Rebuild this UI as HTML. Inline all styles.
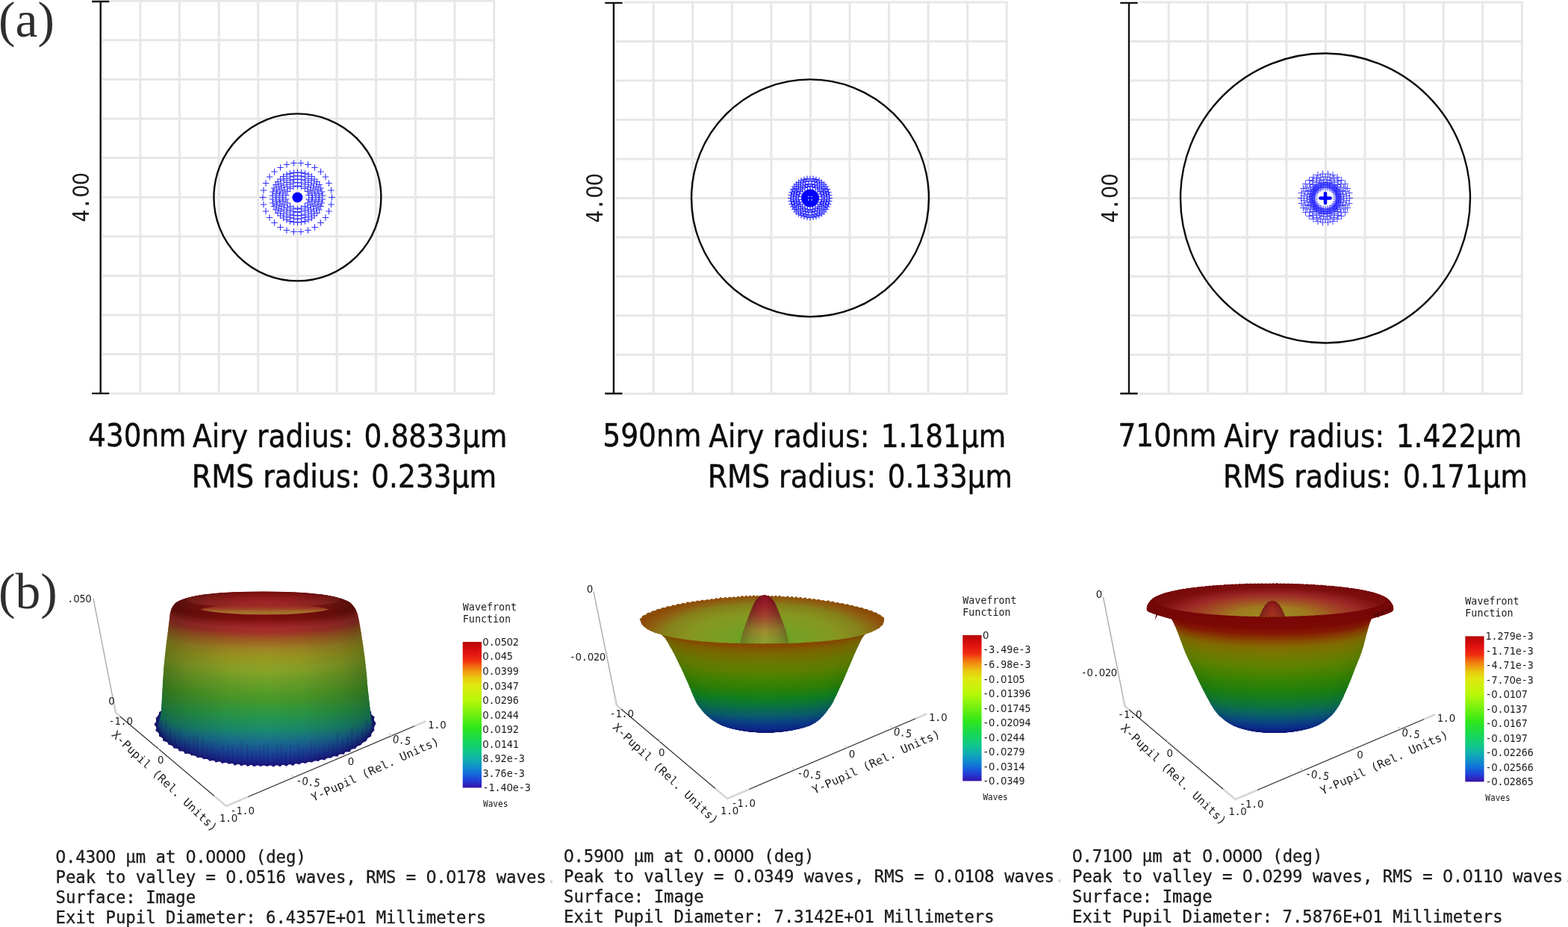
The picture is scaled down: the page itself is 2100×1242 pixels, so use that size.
<!DOCTYPE html>
<html lang="en"><head><meta charset="utf-8"><title>Spot diagrams and wavefront maps</title>
<style>
html,body{margin:0;padding:0;background:#fff;}
body{width:2100px;height:1242px;overflow:hidden;}
svg{display:block;filter:blur(0.45px);}
.serif{font-family:"Liberation Serif",serif;fill:#2e2e2e;}
.sans{font-family:"DejaVu Sans Condensed","DejaVu Sans","Liberation Sans",sans-serif;fill:#0c0c0c;stroke:#0c0c0c;stroke-width:0.45px;}
.mono{font-family:"DejaVu Sans Mono","Liberation Mono",monospace;fill:#1a1a1a;}
.z{font-family:"DejaVu Sans","Liberation Sans",sans-serif;}
</style></head><body>
<svg width="2100" height="1242" viewBox="0 0 2100 1242">
<rect width="2100" height="1242" fill="#fff"/>
<g>
<path d="M187.8 -0.3V528.7M240.4 -0.3V528.7M293.1 -0.3V528.7M345.7 -0.3V528.7M398.4 -0.3V528.7M451.1 -0.3V528.7M503.7 -0.3V528.7M556.4 -0.3V528.7M609 -0.3V528.7M661.7 -0.3V528.7M148.6 1.2H663.2M136.6 53.8H663.2M136.6 106.4H663.2M136.6 159H663.2M136.6 211.6H663.2M136.6 264.2H663.2M136.6 316.8H663.2M136.6 369.4H663.2M136.6 422H663.2M136.6 474.6H663.2M148.6 527.2H663.2" fill="none" stroke="#e7e7e7" stroke-width="3"/>
<path d="M134.7 2V527.1M123 2H146.4M123 527.1H146.4" fill="none" stroke="#111" stroke-width="2.4"/>
<circle cx="398.4" cy="264.4" r="112" fill="none" stroke="#0a0a0a" stroke-width="2.4"/>
<path d="M440.2 264.5h8.6M444.5 260.2v8.6M439.2 274h8.6M443.5 269.7v8.6M436.2 283h8.6M440.5 278.7v8.6M431.7 291.5h8.6M436 287.2v8.6M425.2 298.5h8.6M429.5 294.2v8.6M417.2 304.5h8.6M421.5 300.2v8.6M408.2 308.5h8.6M412.5 304.2v8.6M398.7 310.5h8.6M403 306.2v8.6M389.2 310.5h8.6M393.5 306.2v8.6M379.7 308.5h8.6M384 304.2v8.6M371.2 304.5h8.6M375.5 300.2v8.6M363.2 298.5h8.6M367.5 294.2v8.6M356.7 291.5h8.6M361 287.2v8.6M351.7 283h8.6M356 278.7v8.6M348.7 274h8.6M353 269.7v8.6M347.7 264.5h8.6M352 260.2v8.6M348.7 255h8.6M353 250.7v8.6M351.7 245.5h8.6M356 241.2v8.6M356.7 237h8.6M361 232.7v8.6M363.2 230h8.6M367.5 225.7v8.6M371.2 224.5h8.6M375.5 220.2v8.6M379.7 220.5h8.6M384 216.2v8.6M389.2 218.5h8.6M393.5 214.2v8.6M398.7 218.5h8.6M403 214.2v8.6M408.2 220.5h8.6M412.5 216.2v8.6M417.2 224.5h8.6M421.5 220.2v8.6M425.2 230h8.6M429.5 225.7v8.6M431.7 237h8.6M436 232.7v8.6M436.2 245.5h8.6M440.5 241.2v8.6M439.2 255h8.6M443.5 250.7v8.6M427.7 267h8.6M432 262.7v8.6M426.7 272h8.6M431 267.7v8.6M425.2 276.5h8.6M429.5 272.2v8.6M423.2 281h8.6M427.5 276.7v8.6M420.2 285.5h8.6M424.5 281.2v8.6M416.7 289h8.6M421 284.7v8.6M413.2 292h8.6M417.5 287.7v8.6M408.7 294.5h8.6M413 290.2v8.6M404.2 296.5h8.6M408.5 292.2v8.6M399.2 297.5h8.6M403.5 293.2v8.6M394.2 298h8.6M398.5 293.7v8.6M389.2 297.5h8.6M393.5 293.2v8.6M384.2 296.5h8.6M388.5 292.2v8.6M379.7 294.5h8.6M384 290.2v8.6M375.2 292h8.6M379.5 287.7v8.6M371.2 289h8.6M375.5 284.7v8.6M367.7 285.5h8.6M372 281.2v8.6M365.2 281h8.6M369.5 276.7v8.6M362.7 276.5h8.6M367 272.2v8.6M361.2 272h8.6M365.5 267.7v8.6M360.7 267h8.6M365 262.7v8.6M360.7 262h8.6M365 257.7v8.6M361.2 257h8.6M365.5 252.7v8.6M362.7 252h8.6M367 247.7v8.6M365.2 247.5h8.6M369.5 243.2v8.6M367.7 243.5h8.6M372 239.2v8.6M371.2 240h8.6M375.5 235.7v8.6M375.2 236.5h8.6M379.5 232.2v8.6M379.7 234h8.6M384 229.7v8.6M384.2 232.5h8.6M388.5 228.2v8.6M389.2 231.5h8.6M393.5 227.2v8.6M394.2 231h8.6M398.5 226.7v8.6M399.2 231.5h8.6M403.5 227.2v8.6M404.2 232.5h8.6M408.5 228.2v8.6M408.7 234h8.6M413 229.7v8.6M413.2 236.5h8.6M417.5 232.2v8.6M416.7 240h8.6M421 235.7v8.6M420.2 243.5h8.6M424.5 239.2v8.6M423.2 247.5h8.6M427.5 243.2v8.6M425.2 252h8.6M429.5 247.7v8.6M426.7 257h8.6M431 252.7v8.6M427.7 262h8.6M432 257.7v8.6M423.2 264.5h8.6M427.5 260.2v8.6M422.7 269.5h8.6M427 265.2v8.6M421.2 274.5h8.6M425.5 270.2v8.6M419.2 279h8.6M423.5 274.7v8.6M416.2 283h8.6M420.5 278.7v8.6M412.7 286.5h8.6M417 282.2v8.6M408.7 289.5h8.6M413 285.2v8.6M404.2 291.5h8.6M408.5 287.2v8.6M399.2 293h8.6M403.5 288.7v8.6M394.2 293.5h8.6M398.5 289.2v8.6M389.2 293h8.6M393.5 288.7v8.6M384.2 291.5h8.6M388.5 287.2v8.6M379.7 289.5h8.6M384 285.2v8.6M375.7 286.5h8.6M380 282.2v8.6M371.7 283h8.6M376 278.7v8.6M369.2 279h8.6M373.5 274.7v8.6M366.7 274.5h8.6M371 270.2v8.6M365.7 269.5h8.6M370 265.2v8.6M365.2 264.5h8.6M369.5 260.2v8.6M365.7 259.5h8.6M370 255.2v8.6M366.7 254.5h8.6M371 250.2v8.6M369.2 250h8.6M373.5 245.7v8.6M371.7 246h8.6M376 241.7v8.6M375.7 242h8.6M380 237.7v8.6M379.7 239.5h8.6M384 235.2v8.6M384.2 237h8.6M388.5 232.7v8.6M389.2 236h8.6M393.5 231.7v8.6M394.2 235.5h8.6M398.5 231.2v8.6M399.2 236h8.6M403.5 231.7v8.6M404.2 237h8.6M408.5 232.7v8.6M408.7 239.5h8.6M413 235.2v8.6M412.7 242h8.6M417 237.7v8.6M416.2 246h8.6M420.5 241.7v8.6M419.2 250h8.6M423.5 245.7v8.6M421.2 254.5h8.6M425.5 250.2v8.6M422.7 259.5h8.6M427 255.2v8.6M418.7 267h8.6M423 262.7v8.6M417.2 272h8.6M421.5 267.7v8.6M415.2 276.5h8.6M419.5 272.2v8.6M412.2 281h8.6M416.5 276.7v8.6M408.7 284h8.6M413 279.7v8.6M404.2 287h8.6M408.5 282.7v8.6M399.2 288.5h8.6M403.5 284.2v8.6M394.2 289h8.6M398.5 284.7v8.6M389.2 288.5h8.6M393.5 284.2v8.6M384.2 287h8.6M388.5 282.7v8.6M379.7 284h8.6M384 279.7v8.6M375.7 281h8.6M380 276.7v8.6M372.7 276.5h8.6M377 272.2v8.6M370.7 272h8.6M375 267.7v8.6M369.7 267h8.6M374 262.7v8.6M369.7 262h8.6M374 257.7v8.6M370.7 257h8.6M375 252.7v8.6M372.7 252h8.6M377 247.7v8.6M375.7 248h8.6M380 243.7v8.6M379.7 244.5h8.6M384 240.2v8.6M384.2 242h8.6M388.5 237.7v8.6M389.2 240.5h8.6M393.5 236.2v8.6M394.2 240h8.6M398.5 235.7v8.6M399.2 240.5h8.6M403.5 236.2v8.6M404.2 242h8.6M408.5 237.7v8.6M408.7 244.5h8.6M413 240.2v8.6M412.2 248h8.6M416.5 243.7v8.6M415.2 252h8.6M419.5 247.7v8.6M417.2 257h8.6M421.5 252.7v8.6M418.7 262h8.6M423 257.7v8.6M414.2 264.5h8.6M418.5 260.2v8.6M413.2 269.5h8.6M417.5 265.2v8.6M411.2 274.5h8.6M415.5 270.2v8.6M408.2 278.5h8.6M412.5 274.2v8.6M404.2 281.5h8.6M408.5 277.2v8.6M399.2 283.5h8.6M403.5 279.2v8.6M394.2 284.5h8.6M398.5 280.2v8.6M388.7 283.5h8.6M393 279.2v8.6M384.2 281.5h8.6M388.5 277.2v8.6M380.2 278.5h8.6M384.5 274.2v8.6M376.7 274.5h8.6M381 270.2v8.6M374.7 269.5h8.6M379 265.2v8.6M374.2 264.5h8.6M378.5 260.2v8.6M374.7 259h8.6M379 254.7v8.6M376.7 254.5h8.6M381 250.2v8.6M380.2 250.5h8.6M384.5 246.2v8.6M384.2 247h8.6M388.5 242.7v8.6M388.7 245h8.6M393 240.7v8.6M394.2 244.5h8.6M398.5 240.2v8.6M399.2 245h8.6M403.5 240.7v8.6M404.2 247h8.6M408.5 242.7v8.6M408.2 250.5h8.6M412.5 246.2v8.6M411.2 254.5h8.6M415.5 250.2v8.6M413.2 259h8.6M417.5 254.7v8.6M409.2 267h8.6M413.5 262.7v8.6M407.7 272h8.6M412 267.7v8.6M404.2 276.5h8.6M408.5 272.2v8.6M399.2 279h8.6M403.5 274.7v8.6M394.2 280h8.6M398.5 275.7v8.6M388.7 279h8.6M393 274.7v8.6M384.2 276.5h8.6M388.5 272.2v8.6M380.7 272h8.6M385 267.7v8.6M378.7 267h8.6M383 262.7v8.6M378.7 261.5h8.6M383 257.2v8.6M380.7 256.5h8.6M385 252.2v8.6M384.2 252.5h8.6M388.5 248.2v8.6M388.7 250h8.6M393 245.7v8.6M394.2 249h8.6M398.5 244.7v8.6M399.2 250h8.6M403.5 245.7v8.6M404.2 252.5h8.6M408.5 248.2v8.6M407.7 256.5h8.6M412 252.2v8.6M409.2 261.5h8.6M413.5 257.2v8.6" fill="none" stroke="#1010ff" stroke-width="1.1" stroke-opacity="0.85"/>
<circle cx="398.4" cy="264.4" r="7" fill="#0000ff"/>
<text class="mono" font-size="29.5" transform="translate(119.4 297.4) rotate(-90) scale(0.9290 1)"><tspan x="0">4.</tspan><tspan class="z" x="35.02">0</tspan><tspan class="z" x="52.78">0</tspan></text>
</g>
<g>
<path d="M875.2 1.6V529.1M927.7 1.6V529.1M980.3 1.6V529.1M1032.9 1.6V529.1M1085.5 1.6V529.1M1138 1.6V529.1M1190.6 1.6V529.1M1243.2 1.6V529.1M1295.7 1.6V529.1M1348.3 1.6V529.1M836.1 3.1H1349.8M824.1 55.6H1349.8M824.1 108.1H1349.8M824.1 160.5H1349.8M824.1 213H1349.8M824.1 265.4H1349.8M824.1 317.9H1349.8M824.1 370.3H1349.8M824.1 422.8H1349.8M824.1 475.2H1349.8M836.1 527.6H1349.8" fill="none" stroke="#e7e7e7" stroke-width="3"/>
<path d="M821.9 3.9V527.2M810.2 3.9H833.6M810.2 527.2H833.6" fill="none" stroke="#111" stroke-width="2.4"/>
<circle cx="1085" cy="265.4" r="159" fill="none" stroke="#0a0a0a" stroke-width="2.4"/>
<path d="M1107 265.5h8M1111 261.5v8M1106.5 269.5h8M1110.5 265.5v8M1105.5 273.5h8M1109.5 269.5v8M1104 277h8M1108 273v8M1102 280.5h8M1106 276.5v8M1099.5 284h8M1103.5 280v8M1096.5 286.5h8M1100.5 282.5v8M1093 288.5h8M1097 284.5v8M1089 290h8M1093 286v8M1085 291h8M1089 287v8M1081 291.5h8M1085 287.5v8M1077 291h8M1081 287v8M1073 290h8M1077 286v8M1069 288.5h8M1073 284.5v8M1065.5 286.5h8M1069.5 282.5v8M1062.5 284h8M1066.5 280v8M1060 280.5h8M1064 276.5v8M1058 277h8M1062 273v8M1056.5 273.5h8M1060.5 269.5v8M1055.5 269.5h8M1059.5 265.5v8M1055 265.5h8M1059 261.5v8M1055.5 261.5h8M1059.5 257.5v8M1056.5 257.5h8M1060.5 253.5v8M1058 253.5h8M1062 249.5v8M1060 250h8M1064 246v8M1062.5 247h8M1066.5 243v8M1065.5 244.5h8M1069.5 240.5v8M1069 242h8M1073 238v8M1073 240.5h8M1077 236.5v8M1077 239.5h8M1081 235.5v8M1081 239.5h8M1085 235.5v8M1085 239.5h8M1089 235.5v8M1089 240.5h8M1093 236.5v8M1093 242h8M1097 238v8M1096.5 244.5h8M1100.5 240.5v8M1099.5 247h8M1103.5 243v8M1102 250h8M1106 246v8M1104 253.5h8M1108 249.5v8M1105.5 257.5h8M1109.5 253.5v8M1106.5 261.5h8M1110.5 257.5v8M1103.5 267.5h8M1107.5 263.5v8M1102.5 271h8M1106.5 267v8M1101.5 275h8M1105.5 271v8M1099.5 278.5h8M1103.5 274.5v8M1097 281.5h8M1101 277.5v8M1094 284h8M1098 280v8M1090.5 286h8M1094.5 282v8M1087 287h8M1091 283v8M1083 288h8M1087 284v8M1079 288h8M1083 284v8M1075 287h8M1079 283v8M1071.5 286h8M1075.5 282v8M1068 284h8M1072 280v8M1065 281.5h8M1069 277.5v8M1062.5 278.5h8M1066.5 274.5v8M1060.5 275h8M1064.5 271v8M1059.5 271h8M1063.5 267v8M1058.5 267.5h8M1062.5 263.5v8M1058.5 263.5h8M1062.5 259.5v8M1059.5 259.5h8M1063.5 255.5v8M1060.5 256h8M1064.5 252v8M1062.5 252.5h8M1066.5 248.5v8M1065 249.5h8M1069 245.5v8M1068 247h8M1072 243v8M1071.5 245h8M1075.5 241v8M1075 243.5h8M1079 239.5v8M1079 243h8M1083 239v8M1083 243h8M1087 239v8M1087 243.5h8M1091 239.5v8M1090.5 245h8M1094.5 241v8M1094 247h8M1098 243v8M1097 249.5h8M1101 245.5v8M1099.5 252.5h8M1103.5 248.5v8M1101.5 256h8M1105.5 252v8M1102.5 259.5h8M1106.5 255.5v8M1103.5 263.5h8M1107.5 259.5v8M1100 265.5h8M1104 261.5v8M1099.5 269.5h8M1103.5 265.5v8M1098.5 273h8M1102.5 269v8M1096.5 276.5h8M1100.5 272.5v8M1093.5 279.5h8M1097.5 275.5v8M1090.5 282h8M1094.5 278v8M1087 283.5h8M1091 279.5v8M1083 284.5h8M1087 280.5v8M1079 284.5h8M1083 280.5v8M1075 283.5h8M1079 279.5v8M1071.5 282h8M1075.5 278v8M1068.5 279.5h8M1072.5 275.5v8M1065.5 276.5h8M1069.5 272.5v8M1063.5 273h8M1067.5 269v8M1062.5 269.5h8M1066.5 265.5v8M1062 265.5h8M1066 261.5v8M1062.5 261.5h8M1066.5 257.5v8M1063.5 257.5h8M1067.5 253.5v8M1065.5 254h8M1069.5 250v8M1068.5 251.5h8M1072.5 247.5v8M1071.5 249h8M1075.5 245v8M1075 247.5h8M1079 243.5v8M1079 246.5h8M1083 242.5v8M1083 246.5h8M1087 242.5v8M1087 247.5h8M1091 243.5v8M1090.5 249h8M1094.5 245v8M1093.5 251.5h8M1097.5 247.5v8M1096.5 254h8M1100.5 250v8M1098.5 257.5h8M1102.5 253.5v8M1099.5 261.5h8M1103.5 257.5v8M1096.5 267.5h8M1100.5 263.5v8M1095.5 271h8M1099.5 267v8M1094 274h8M1098 270v8M1091.5 277h8M1095.5 273v8M1088 279h8M1092 275v8M1084.5 280.5h8M1088.5 276.5v8M1081 281h8M1085 277v8M1077.5 280.5h8M1081.5 276.5v8M1074 279h8M1078 275v8M1070.5 277h8M1074.5 273v8M1068 274h8M1072 270v8M1066.5 271h8M1070.5 267v8M1065.5 267.5h8M1069.5 263.5v8M1065.5 263.5h8M1069.5 259.5v8M1066.5 260h8M1070.5 256v8M1068 256.5h8M1072 252.5v8M1070.5 254h8M1074.5 250v8M1074 251.5h8M1078 247.5v8M1077.5 250.5h8M1081.5 246.5v8M1081 250h8M1085 246v8M1084.5 250.5h8M1088.5 246.5v8M1088 251.5h8M1092 247.5v8M1091.5 254h8M1095.5 250v8M1094 256.5h8M1098 252.5v8M1095.5 260h8M1099.5 256v8M1096.5 263.5h8M1100.5 259.5v8" fill="none" stroke="#1010ff" stroke-width="1.15" stroke-opacity="0.9"/>
<circle cx="1085" cy="265.4" r="12" fill="#0000ff"/>
<path d="M1082.2 263.4h1.4M1086.4 263.4h1.4M1082.2 267.7h1.4M1086.4 267.7h1.4" stroke="#dfe0ff" stroke-width="1.4" fill="none"/>
<text class="mono" font-size="29.5" transform="translate(806.6 298.4) rotate(-90) scale(0.9290 1)"><tspan x="0">4.</tspan><tspan class="z" x="35.02">0</tspan><tspan class="z" x="52.78">0</tspan></text>
</g>
<g>
<path d="M1565.2 1.6V529.1M1617.7 1.6V529.1M1670.3 1.6V529.1M1722.9 1.6V529.1M1775.4 1.6V529.1M1828 1.6V529.1M1880.6 1.6V529.1M1933.2 1.6V529.1M1985.7 1.6V529.1M2038.3 1.6V529.1M1526.1 3.1H2039.8M1514.1 55.6H2039.8M1514.1 108.1H2039.8M1514.1 160.5H2039.8M1514.1 213H2039.8M1514.1 265.4H2039.8M1514.1 317.9H2039.8M1514.1 370.3H2039.8M1514.1 422.8H2039.8M1514.1 475.2H2039.8M1526.1 527.6H2039.8" fill="none" stroke="#e7e7e7" stroke-width="3"/>
<path d="M1512 3.9V527.2M1500.3 3.9H1523.7M1500.3 527.2H1523.7" fill="none" stroke="#111" stroke-width="2.4"/>
<circle cx="1775" cy="265.5" r="194" fill="none" stroke="#0a0a0a" stroke-width="2.4"/>
<path d="M1803 265.5h9M1807.5 261v9M1802.5 272.5h9M1807 268v9M1800 278.5h9M1804.5 274v9M1797 284.5h9M1801.5 280v9M1792 289.5h9M1796.5 285v9M1786.5 293.5h9M1791 289v9M1780.5 296.5h9M1785 292v9M1774 298h9M1778.5 293.5v9M1767 298h9M1771.5 293.5v9M1760.5 296.5h9M1765 292v9M1754.5 293.5h9M1759 289v9M1749 289.5h9M1753.5 285v9M1744 284.5h9M1748.5 280v9M1741 278.5h9M1745.5 274v9M1738.5 272.5h9M1743 268v9M1738 265.5h9M1742.5 261v9M1738.5 258.5h9M1743 254v9M1741 252.5h9M1745.5 248v9M1744 246.5h9M1748.5 242v9M1749 241.5h9M1753.5 237v9M1754.5 237.5h9M1759 233v9M1760.5 234.5h9M1765 230v9M1767 233h9M1771.5 228.5v9M1774 233h9M1778.5 228.5v9M1780.5 234.5h9M1785 230v9M1786.5 237.5h9M1791 233v9M1792 241.5h9M1796.5 237v9M1797 246.5h9M1801.5 242v9M1800 252.5h9M1804.5 248v9M1802.5 258.5h9M1807 254v9M1799 268.5h9M1803.5 264v9M1797.5 274.5h9M1802 270v9M1795 280h9M1799.5 275.5v9M1791.5 284.5h9M1796 280v9M1787.5 288.5h9M1792 284v9M1782 291.5h9M1786.5 287v9M1776.5 293.5h9M1781 289v9M1770.5 294h9M1775 289.5v9M1764.5 293.5h9M1769 289v9M1759 291.5h9M1763.5 287v9M1753.5 288.5h9M1758 284v9M1749.5 284.5h9M1754 280v9M1746 280h9M1750.5 275.5v9M1743.5 274.5h9M1748 270v9M1742 268.5h9M1746.5 264v9M1742 262.5h9M1746.5 258v9M1743.5 256.5h9M1748 252v9M1746 251h9M1750.5 246.5v9M1749.5 246.5h9M1754 242v9M1753.5 242.5h9M1758 238v9M1759 239.5h9M1763.5 235v9M1764.5 237.5h9M1769 233v9M1770.5 237h9M1775 232.5v9M1776.5 237.5h9M1781 233v9M1782 239.5h9M1786.5 235v9M1787.5 242.5h9M1792 238v9M1791.5 246.5h9M1796 242v9M1795 251h9M1799.5 246.5v9M1797.5 256.5h9M1802 252v9M1799 262.5h9M1803.5 258v9M1795 265.5h9M1799.5 261v9M1794.5 270.5h9M1799 266v9M1793 275.5h9M1797.5 271v9M1790.5 280h9M1795 275.5v9M1787 283.5h9M1791.5 279v9M1782.5 286.5h9M1787 282v9M1778 289h9M1782.5 284.5v9M1773 290h9M1777.5 285.5v9M1768 290h9M1772.5 285.5v9M1763 289h9M1767.5 284.5v9M1758.5 286.5h9M1763 282v9M1754 283.5h9M1758.5 279v9M1750.5 280h9M1755 275.5v9M1748 275.5h9M1752.5 271v9M1746.5 270.5h9M1751 266v9M1746 265.5h9M1750.5 261v9M1746.5 260.5h9M1751 256v9M1748 255.5h9M1752.5 251v9M1750.5 251h9M1755 246.5v9M1754 247.5h9M1758.5 243v9M1758.5 244.5h9M1763 240v9M1763 242h9M1767.5 237.5v9M1768 241h9M1772.5 236.5v9M1773 241h9M1777.5 236.5v9M1778 242h9M1782.5 237.5v9M1782.5 244.5h9M1787 240v9M1787 247.5h9M1791.5 243v9M1790.5 251h9M1795 246.5v9M1793 255.5h9M1797.5 251v9M1794.5 260.5h9M1799 256v9M1791.5 267.5h9M1796 263v9M1791 271h9M1795.5 266.5v9M1789.5 274.5h9M1794 270v9M1787.5 277.5h9M1792 273v9M1785.5 280.5h9M1790 276v9M1782.5 282.5h9M1787 278v9M1779.5 284.5h9M1784 280v9M1776 286h9M1780.5 281.5v9M1772.5 286.5h9M1777 282v9M1768.5 286.5h9M1773 282v9M1765 286h9M1769.5 281.5v9M1761.5 284.5h9M1766 280v9M1758.5 282.5h9M1763 278v9M1755.5 280.5h9M1760 276v9M1753.5 277.5h9M1758 273v9M1751.5 274.5h9M1756 270v9M1750 271h9M1754.5 266.5v9M1749.5 267.5h9M1754 263v9M1749.5 263.5h9M1754 259v9M1750 260h9M1754.5 255.5v9M1751.5 256.5h9M1756 252v9M1753.5 253.5h9M1758 249v9M1755.5 250.5h9M1760 246v9M1758.5 248.5h9M1763 244v9M1761.5 246.5h9M1766 242v9M1765 245h9M1769.5 240.5v9M1768.5 244.5h9M1773 240v9M1772.5 244.5h9M1777 240v9M1776 245h9M1780.5 240.5v9M1779.5 246.5h9M1784 242v9M1782.5 248.5h9M1787 244v9M1785.5 250.5h9M1790 246v9M1787.5 253.5h9M1792 249v9M1789.5 256.5h9M1794 252v9M1791 260h9M1795.5 255.5v9M1791.5 263.5h9M1796 259v9M1788.5 265.5h9M1793 261v9M1788 268.5h9M1792.5 264v9M1787.5 271.5h9M1792 267v9M1786 274.5h9M1790.5 270v9M1784.5 277h9M1789 272.5v9M1782 279.5h9M1786.5 275v9M1779.5 281h9M1784 276.5v9M1776.5 282.5h9M1781 278v9M1773.5 283h9M1778 278.5v9M1770.5 283.5h9M1775 279v9M1767.5 283h9M1772 278.5v9M1764.5 282.5h9M1769 278v9M1761.5 281h9M1766 276.5v9M1759 279.5h9M1763.5 275v9M1756.5 277h9M1761 272.5v9M1755 274.5h9M1759.5 270v9M1753.5 271.5h9M1758 267v9M1753 268.5h9M1757.5 264v9M1752.5 265.5h9M1757 261v9M1753 262.5h9M1757.5 258v9M1753.5 259.5h9M1758 255v9M1755 256.5h9M1759.5 252v9M1756.5 254h9M1761 249.5v9M1759 251.5h9M1763.5 247v9M1761.5 250h9M1766 245.5v9M1764.5 248.5h9M1769 244v9M1767.5 248h9M1772 243.5v9M1770.5 247.5h9M1775 243v9M1773.5 248h9M1778 243.5v9M1776.5 248.5h9M1781 244v9M1779.5 250h9M1784 245.5v9M1782 251.5h9M1786.5 247v9M1784.5 254h9M1789 249.5v9M1786 256.5h9M1790.5 252v9M1787.5 259.5h9M1792 255v9M1788 262.5h9M1792.5 258v9M1785.5 267h9M1790 262.5v9M1785 270h9M1789.5 265.5v9M1783.5 273h9M1788 268.5v9M1781.5 275.5h9M1786 271v9M1779.5 277.5h9M1784 273v9M1776.5 279h9M1781 274.5v9M1773.5 280h9M1778 275.5v9M1770.5 280.5h9M1775 276v9M1767.5 280h9M1772 275.5v9M1764.5 279h9M1769 274.5v9M1761.5 277.5h9M1766 273v9M1759.5 275.5h9M1764 271v9M1757.5 273h9M1762 268.5v9M1756 270h9M1760.5 265.5v9M1755.5 267h9M1760 262.5v9M1755.5 264h9M1760 259.5v9M1756 261h9M1760.5 256.5v9M1757.5 258h9M1762 253.5v9M1759.5 255.5h9M1764 251v9M1761.5 253.5h9M1766 249v9M1764.5 252h9M1769 247.5v9M1767.5 251h9M1772 246.5v9M1770.5 250.5h9M1775 246v9M1773.5 251h9M1778 246.5v9M1776.5 252h9M1781 247.5v9M1779.5 253.5h9M1784 249v9M1781.5 255.5h9M1786 251v9M1783.5 258h9M1788 253.5v9M1785 261h9M1789.5 256.5v9M1785.5 264h9M1790 259.5v9" fill="none" stroke="#1010ff" stroke-width="1.1" stroke-opacity="0.75"/>
<circle cx="1775" cy="265.5" r="18" fill="none" stroke="#0000ff" stroke-width="7" stroke-opacity="0.38"/>
<path d="M1768.5 265.5h13M1775 259v13" stroke="#0000ff" stroke-width="4.6" stroke-linecap="round" fill="none"/>
<text class="mono" font-size="29.5" transform="translate(1496.7 298.5) rotate(-90) scale(0.9290 1)"><tspan x="0">4.</tspan><tspan class="z" x="35.02">0</tspan><tspan class="z" x="52.78">0</tspan></text>
</g>
<text class="serif" x="-2" y="48.7" font-size="67.5">(a)</text>
<text class="serif" x="-2" y="814.6" font-size="67.5">(b)</text>
<text class="sans" font-size="42.5" x="118.35" y="597.5" textLength="131.01" lengthAdjust="spacingAndGlyphs">430nm</text>
<text class="sans" font-size="42.5" x="257.91" y="599.2" textLength="215.25" lengthAdjust="spacingAndGlyphs">Airy radius:</text>
<text class="sans" font-size="42.5" x="487.61" y="599.2" textLength="191.75" lengthAdjust="spacingAndGlyphs">0.8833µm</text>
<text class="sans" font-size="42.5" x="256.72" y="653.3" textLength="225.90" lengthAdjust="spacingAndGlyphs">RMS radius:</text>
<text class="sans" font-size="42.5" x="497.15" y="653.3" textLength="168.09" lengthAdjust="spacingAndGlyphs">0.233µm</text>
<text class="sans" font-size="42.5" x="807.28" y="597.5" textLength="132.07" lengthAdjust="spacingAndGlyphs">590nm</text>
<text class="sans" font-size="42.5" x="949.20" y="599.2" textLength="215.41" lengthAdjust="spacingAndGlyphs">Airy radius:</text>
<text class="sans" font-size="42.5" x="1179.67" y="599.2" textLength="167.67" lengthAdjust="spacingAndGlyphs">1.181µm</text>
<text class="sans" font-size="42.5" x="947.70" y="653.3" textLength="225.70" lengthAdjust="spacingAndGlyphs">RMS radius:</text>
<text class="sans" font-size="42.5" x="1188.81" y="653.3" textLength="166.99" lengthAdjust="spacingAndGlyphs">0.133µm</text>
<text class="sans" font-size="42.5" x="1497.40" y="597.5" textLength="132.01" lengthAdjust="spacingAndGlyphs">710nm</text>
<text class="sans" font-size="42.5" x="1639.20" y="599.2" textLength="215.13" lengthAdjust="spacingAndGlyphs">Airy radius:</text>
<text class="sans" font-size="42.5" x="1869.65" y="599.2" textLength="168.57" lengthAdjust="spacingAndGlyphs">1.422µm</text>
<text class="sans" font-size="42.5" x="1637.99" y="653.3" textLength="225.21" lengthAdjust="spacingAndGlyphs">RMS radius:</text>
<text class="sans" font-size="42.5" x="1878.81" y="653.3" textLength="166.99" lengthAdjust="spacingAndGlyphs">0.171µm</text>
<defs><linearGradient id="sh" x1="0" y1="0" x2="1" y2="0">
<stop offset="0" stop-color="#001000" stop-opacity="0.3"/>
<stop offset="0.12" stop-color="#001000" stop-opacity="0.17"/>
<stop offset="0.32" stop-color="#001000" stop-opacity="0.04"/>
<stop offset="0.5" stop-color="#000" stop-opacity="0"/>
<stop offset="0.68" stop-color="#001000" stop-opacity="0.04"/>
<stop offset="0.88" stop-color="#001000" stop-opacity="0.17"/>
<stop offset="1" stop-color="#001000" stop-opacity="0.3"/>
</linearGradient>
<linearGradient id="cap1" x1="0" y1="0" x2="0" y2="1">
<stop offset="0" stop-color="#720e0e"/>
<stop offset="0.35" stop-color="#901a1a"/>
<stop offset="0.7" stop-color="#a02626"/>
<stop offset="1" stop-color="#9a2222"/>
</linearGradient>
<linearGradient id="crat1" gradientUnits="userSpaceOnUse" x1="0" y1="808" x2="0" y2="824">
<stop offset="0" stop-color="#a02626" stop-opacity="0"/>
<stop offset="0.35" stop-color="#a23c28" stop-opacity="0.7"/>
<stop offset="0.7" stop-color="#a46a2a"/>
<stop offset="0.92" stop-color="#a4742c"/>
<stop offset="1" stop-color="#8a3a18"/>
</linearGradient><linearGradient id="sh2" x1="0" y1="0" x2="1" y2="0">
<stop offset="0" stop-color="#000" stop-opacity="0.06"/>
<stop offset="0.15" stop-color="#000" stop-opacity="0.02"/>
<stop offset="0.5" stop-color="#000" stop-opacity="0"/>
<stop offset="0.85" stop-color="#000" stop-opacity="0.02"/>
<stop offset="1" stop-color="#000" stop-opacity="0.06"/>
</linearGradient>
<linearGradient id="sh3" x1="0" y1="0" x2="1" y2="0">
<stop offset="0" stop-color="#000" stop-opacity="0.28"/>
<stop offset="0.2" stop-color="#000" stop-opacity="0.12"/>
<stop offset="0.5" stop-color="#000" stop-opacity="0"/>
<stop offset="0.8" stop-color="#000" stop-opacity="0.12"/>
<stop offset="1" stop-color="#000" stop-opacity="0.28"/>
</linearGradient>
<radialGradient id="int2" gradientUnits="userSpaceOnUse" cx="1023" cy="854" r="172" gradientTransform="translate(0 854) scale(1 0.33) translate(0 -854)">
<stop offset="0" stop-color="#5aa222"/>
<stop offset="0.3" stop-color="#78a024"/>
<stop offset="0.58" stop-color="#869620"/>
<stop offset="0.78" stop-color="#86801a"/>
<stop offset="0.92" stop-color="#8e5c10"/>
<stop offset="1" stop-color="#8c4c08"/>
</radialGradient>
<radialGradient id="int3" gradientUnits="userSpaceOnUse" cx="1703" cy="825" r="185" gradientTransform="translate(0 825) scale(1 0.24) translate(0 -825)">
<stop offset="0" stop-color="#9a9020"/>
<stop offset="0.28" stop-color="#a07a20"/>
<stop offset="0.48" stop-color="#a24a24"/>
<stop offset="0.66" stop-color="#9c2626"/>
<stop offset="0.85" stop-color="#7e0e0e"/>
<stop offset="1" stop-color="#760a0a"/>
</radialGradient>
<clipPath id="pk2"><rect x="858" y="750" width="326" height="80"/><ellipse cx="1021" cy="830" rx="163" ry="32"/></clipPath>
<clipPath id="pk3"><rect x="1546" y="750" width="310" height="54"/><ellipse cx="1701" cy="804" rx="155" ry="22"/></clipPath><linearGradient id="cb" x1="0" y1="0" x2="0" y2="1"><stop offset="0" stop-color="#b80808"/><stop offset="0.03" stop-color="#c80a0a"/><stop offset="0.07" stop-color="#e01010"/><stop offset="0.13" stop-color="#f03010"/><stop offset="0.17" stop-color="#f07010"/><stop offset="0.21" stop-color="#f0a010"/><stop offset="0.245" stop-color="#e8c810"/><stop offset="0.295" stop-color="#e0e810"/><stop offset="0.4" stop-color="#b8f808"/><stop offset="0.5" stop-color="#70f010"/><stop offset="0.585" stop-color="#30e818"/><stop offset="0.67" stop-color="#18d850"/><stop offset="0.75" stop-color="#10c888"/><stop offset="0.82" stop-color="#10a8b8"/><stop offset="0.89" stop-color="#1078d8"/><stop offset="0.95" stop-color="#2040d8"/><stop offset="1" stop-color="#3810a8"/></linearGradient></defs>
<path d="M125 802L155 955" stroke="#a8a8a8" stroke-width="1.3" fill="none"/>
<path d="M152.3 941.2L155 955" stroke="#cfcfcf" stroke-width="2.6" fill="none"/>
<path d="M155 955L303 1080L570 966.5" stroke="#262626" stroke-width="1.15" fill="none" stroke-linejoin="round"/>
<path d="M286.7 1066.2L303 1080L332.4 1067.5M555.3 972.7L570 966.5M155 955L160.9 960" stroke="#d6d6d6" stroke-width="2.5" fill="none" stroke-linejoin="round"/>
<path d="M212.7 1003.8l-2 -4.5M393.8 1041.4l-3.5 -3M463.2 1011.9l-3.5 -3M524.6 985.8l-3.5 -3" stroke="#c4c4c4" stroke-width="1.2" fill="none"/>
<text class="mono" font-size="14.4" transform="translate(145.5 970.6) scale(0.9285 1)"><tspan x="0">-1.</tspan><tspan class="z" x="25.76">0</tspan></text>
<text class="mono" font-size="14.4" transform="translate(211.3 1023) scale(0.9285 1)"><tspan class="z" x="-0.24">0</tspan></text>
<text class="mono" font-size="14.4" transform="translate(294 1101) scale(0.9285 1)"><tspan x="0">1.</tspan><tspan class="z" x="17.09">0</tspan></text>
<text class="mono" font-size="14.4" transform="translate(308.5 1091.3) scale(0.9285 1)"><tspan x="0">-1.</tspan><tspan class="z" x="25.76">0</tspan></text>
<text class="mono" font-size="14.4" transform="translate(396 1050) rotate(8) scale(0.9285 1)"><tspan x="0">-</tspan><tspan class="z" x="8.43">0</tspan><tspan x="17.34">.5</tspan></text>
<text class="mono" font-size="14.4" transform="translate(466 1025) scale(0.9285 1)"><tspan class="z" x="-0.24">0</tspan></text>
<text class="mono" font-size="14.4" transform="translate(525.5 995) rotate(8) scale(0.9285 1)"><tspan class="z" x="-0.24">0</tspan><tspan x="8.67">.5</tspan></text>
<text class="mono" font-size="14.4" transform="translate(573.3 975.5) scale(0.9285 1)"><tspan x="0">1.</tspan><tspan class="z" x="17.09">0</tspan></text>
<text class="mono" font-size="15.2" transform="translate(148.8 985.6) rotate(43.5)" textLength="187.6" lengthAdjust="spacing">X-Pupil (Rel. Units)</text>
<text class="mono" font-size="15.2" transform="translate(419.8 1074.1) rotate(-24.5)" textLength="186" lengthAdjust="spacing">Y-Pupil (Rel. Units)</text>
<text class="mono" font-size="14.4" transform="translate(122.5 806.8) scale(0.9285 1)"><tspan x="-34.68">.</tspan><tspan class="z" x="-26.25">0</tspan><tspan x="-17.34">5</tspan><tspan class="z" x="-8.91">0</tspan></text>
<text class="mono" font-size="14.4" transform="translate(153.4 943.7) scale(0.9285 1)"><tspan class="z" x="-8.91">0</tspan></text>
<path d="M795 792.5L826 945" stroke="#a8a8a8" stroke-width="1.3" fill="none"/>
<path d="M823.2 931.3L826 945" stroke="#cfcfcf" stroke-width="2.6" fill="none"/>
<path d="M826 945L974 1070L1241 956.5" stroke="#262626" stroke-width="1.15" fill="none" stroke-linejoin="round"/>
<path d="M957.7 1056.2L974 1070L1003.4 1057.5M1226.3 962.7L1241 956.5M826 945L831.9 950" stroke="#d6d6d6" stroke-width="2.5" fill="none" stroke-linejoin="round"/>
<path d="M883.7 993.8l-2 -4.5M1064.8 1031.4l-3.5 -3M1134.2 1001.9l-3.5 -3M1195.6 975.8l-3.5 -3" stroke="#c4c4c4" stroke-width="1.2" fill="none"/>
<text class="mono" font-size="14.4" transform="translate(816.5 960.6) scale(0.9285 1)"><tspan x="0">-1.</tspan><tspan class="z" x="25.76">0</tspan></text>
<text class="mono" font-size="14.4" transform="translate(882.3 1013) scale(0.9285 1)"><tspan class="z" x="-0.24">0</tspan></text>
<text class="mono" font-size="14.4" transform="translate(965 1091) scale(0.9285 1)"><tspan x="0">1.</tspan><tspan class="z" x="17.09">0</tspan></text>
<text class="mono" font-size="14.4" transform="translate(979.5 1081.3) scale(0.9285 1)"><tspan x="0">-1.</tspan><tspan class="z" x="25.76">0</tspan></text>
<text class="mono" font-size="14.4" transform="translate(1067 1040) rotate(8) scale(0.9285 1)"><tspan x="0">-</tspan><tspan class="z" x="8.43">0</tspan><tspan x="17.34">.5</tspan></text>
<text class="mono" font-size="14.4" transform="translate(1137 1015) scale(0.9285 1)"><tspan class="z" x="-0.24">0</tspan></text>
<text class="mono" font-size="14.4" transform="translate(1196.5 985) rotate(8) scale(0.9285 1)"><tspan class="z" x="-0.24">0</tspan><tspan x="8.67">.5</tspan></text>
<text class="mono" font-size="14.4" transform="translate(1244.3 965.5) scale(0.9285 1)"><tspan x="0">1.</tspan><tspan class="z" x="17.09">0</tspan></text>
<text class="mono" font-size="15.2" transform="translate(819.8 975.6) rotate(43.5)" textLength="187.6" lengthAdjust="spacing">X-Pupil (Rel. Units)</text>
<text class="mono" font-size="15.2" transform="translate(1090.8 1064.1) rotate(-24.5)" textLength="186" lengthAdjust="spacing">Y-Pupil (Rel. Units)</text>
<text class="mono" font-size="14.4" transform="translate(794 794) scale(0.9285 1)"><tspan class="z" x="-8.91">0</tspan></text>
<text class="mono" font-size="14.4" transform="translate(811 884.8) scale(0.9285 1)"><tspan x="-52.02">-</tspan><tspan class="z" x="-43.59">0</tspan><tspan x="-34.68">.</tspan><tspan class="z" x="-26.25">0</tspan><tspan x="-17.34">2</tspan><tspan class="z" x="-8.91">0</tspan></text>
<path d="M1477.5 800L1506.5 946" stroke="#a8a8a8" stroke-width="1.3" fill="none"/>
<path d="M1503.9 932.9L1506.5 946" stroke="#cfcfcf" stroke-width="2.6" fill="none"/>
<path d="M1506.5 946L1654.5 1071L1921.5 957.5" stroke="#262626" stroke-width="1.15" fill="none" stroke-linejoin="round"/>
<path d="M1638.2 1057.2L1654.5 1071L1683.9 1058.5M1906.8 963.7L1921.5 957.5M1506.5 946L1512.4 951" stroke="#d6d6d6" stroke-width="2.5" fill="none" stroke-linejoin="round"/>
<path d="M1564.2 994.8l-2 -4.5M1745.3 1032.4l-3.5 -3M1814.7 1002.9l-3.5 -3M1876.1 976.8l-3.5 -3" stroke="#c4c4c4" stroke-width="1.2" fill="none"/>
<text class="mono" font-size="14.4" transform="translate(1497 961.6) scale(0.9285 1)"><tspan x="0">-1.</tspan><tspan class="z" x="25.76">0</tspan></text>
<text class="mono" font-size="14.4" transform="translate(1562.8 1014) scale(0.9285 1)"><tspan class="z" x="-0.24">0</tspan></text>
<text class="mono" font-size="14.4" transform="translate(1645.5 1092) scale(0.9285 1)"><tspan x="0">1.</tspan><tspan class="z" x="17.09">0</tspan></text>
<text class="mono" font-size="14.4" transform="translate(1660 1082.3) scale(0.9285 1)"><tspan x="0">-1.</tspan><tspan class="z" x="25.76">0</tspan></text>
<text class="mono" font-size="14.4" transform="translate(1747.5 1041) rotate(8) scale(0.9285 1)"><tspan x="0">-</tspan><tspan class="z" x="8.43">0</tspan><tspan x="17.34">.5</tspan></text>
<text class="mono" font-size="14.4" transform="translate(1817.5 1016) scale(0.9285 1)"><tspan class="z" x="-0.24">0</tspan></text>
<text class="mono" font-size="14.4" transform="translate(1877 986) rotate(8) scale(0.9285 1)"><tspan class="z" x="-0.24">0</tspan><tspan x="8.67">.5</tspan></text>
<text class="mono" font-size="14.4" transform="translate(1924.8 966.5) scale(0.9285 1)"><tspan x="0">1.</tspan><tspan class="z" x="17.09">0</tspan></text>
<text class="mono" font-size="15.2" transform="translate(1500.3 976.6) rotate(43.5)" textLength="187.6" lengthAdjust="spacing">X-Pupil (Rel. Units)</text>
<text class="mono" font-size="15.2" transform="translate(1771.3 1065.1) rotate(-24.5)" textLength="186" lengthAdjust="spacing">Y-Pupil (Rel. Units)</text>
<text class="mono" font-size="14.4" transform="translate(1476 801) scale(0.9285 1)"><tspan class="z" x="-8.91">0</tspan></text>
<text class="mono" font-size="14.4" transform="translate(1496 905.8) scale(0.9285 1)"><tspan x="-52.02">-</tspan><tspan class="z" x="-43.59">0</tspan><tspan x="-34.68">.</tspan><tspan class="z" x="-26.25">0</tspan><tspan x="-17.34">2</tspan><tspan class="z" x="-8.91">0</tspan></text>
<rect x="619.7" y="860" width="25.3" height="195.4" fill="url(#cb)"/>
<text class="mono" font-size="14.4" transform="translate(646.5 864.9) scale(0.9285 1)"><tspan class="z" x="-0.24">0</tspan><tspan x="8.67">.</tspan><tspan class="z" x="17.09">0</tspan><tspan x="26.01">5</tspan><tspan class="z" x="34.43">0</tspan><tspan x="43.35">2</tspan></text>
<text class="mono" font-size="14.4" transform="translate(646.5 884.44) scale(0.9285 1)"><tspan class="z" x="-0.24">0</tspan><tspan x="8.67">.</tspan><tspan class="z" x="17.09">0</tspan><tspan x="26.01">45</tspan></text>
<text class="mono" font-size="14.4" transform="translate(646.5 903.98) scale(0.9285 1)"><tspan class="z" x="-0.24">0</tspan><tspan x="8.67">.</tspan><tspan class="z" x="17.09">0</tspan><tspan x="26.01">399</tspan></text>
<text class="mono" font-size="14.4" transform="translate(646.5 923.52) scale(0.9285 1)"><tspan class="z" x="-0.24">0</tspan><tspan x="8.67">.</tspan><tspan class="z" x="17.09">0</tspan><tspan x="26.01">347</tspan></text>
<text class="mono" font-size="14.4" transform="translate(646.5 943.06) scale(0.9285 1)"><tspan class="z" x="-0.24">0</tspan><tspan x="8.67">.</tspan><tspan class="z" x="17.09">0</tspan><tspan x="26.01">296</tspan></text>
<text class="mono" font-size="14.4" transform="translate(646.5 962.6) scale(0.9285 1)"><tspan class="z" x="-0.24">0</tspan><tspan x="8.67">.</tspan><tspan class="z" x="17.09">0</tspan><tspan x="26.01">244</tspan></text>
<text class="mono" font-size="14.4" transform="translate(646.5 982.14) scale(0.9285 1)"><tspan class="z" x="-0.24">0</tspan><tspan x="8.67">.</tspan><tspan class="z" x="17.09">0</tspan><tspan x="26.01">192</tspan></text>
<text class="mono" font-size="14.4" transform="translate(646.5 1001.68) scale(0.9285 1)"><tspan class="z" x="-0.24">0</tspan><tspan x="8.67">.</tspan><tspan class="z" x="17.09">0</tspan><tspan x="26.01">141</tspan></text>
<text class="mono" font-size="14.4" transform="translate(646.5 1021.22) scale(0.9285 1)"><tspan x="0">8.92e-3</tspan></text>
<text class="mono" font-size="14.4" transform="translate(646.5 1040.76) scale(0.9285 1)"><tspan x="0">3.76e-3</tspan></text>
<text class="mono" font-size="14.4" transform="translate(646.5 1060.3) scale(0.9285 1)"><tspan x="0">-1.4</tspan><tspan class="z" x="34.43">0</tspan><tspan x="43.35">e-3</tspan></text>
<text class="mono" font-size="14.4" transform="translate(619.8 817.5) scale(0.9285 1)"><tspan x="0">Wavefront</tspan></text>
<text class="mono" font-size="14.4" transform="translate(619.8 833.7) scale(0.9285 1)"><tspan x="0">Function</tspan></text>
<text class="mono" font-size="11.8" transform="translate(647 1081.2) scale(0.9403 1)"><tspan x="0">Waves</tspan></text>
<rect x="1289.3" y="851" width="25.3" height="195.4" fill="url(#cb)"/>
<text class="mono" font-size="14.4" transform="translate(1316.2 855.9) scale(0.9285 1)"><tspan class="z" x="-0.24">0</tspan></text>
<text class="mono" font-size="14.4" transform="translate(1316.2 875.44) scale(0.9285 1)"><tspan x="0">-3.49e-3</tspan></text>
<text class="mono" font-size="14.4" transform="translate(1316.2 894.98) scale(0.9285 1)"><tspan x="0">-6.98e-3</tspan></text>
<text class="mono" font-size="14.4" transform="translate(1316.2 914.52) scale(0.9285 1)"><tspan x="0">-</tspan><tspan class="z" x="8.43">0</tspan><tspan x="17.34">.</tspan><tspan class="z" x="25.76">0</tspan><tspan x="34.68">1</tspan><tspan class="z" x="43.1">0</tspan><tspan x="52.02">5</tspan></text>
<text class="mono" font-size="14.4" transform="translate(1316.2 934.06) scale(0.9285 1)"><tspan x="0">-</tspan><tspan class="z" x="8.43">0</tspan><tspan x="17.34">.</tspan><tspan class="z" x="25.76">0</tspan><tspan x="34.68">1396</tspan></text>
<text class="mono" font-size="14.4" transform="translate(1316.2 953.6) scale(0.9285 1)"><tspan x="0">-</tspan><tspan class="z" x="8.43">0</tspan><tspan x="17.34">.</tspan><tspan class="z" x="25.76">0</tspan><tspan x="34.68">1745</tspan></text>
<text class="mono" font-size="14.4" transform="translate(1316.2 973.14) scale(0.9285 1)"><tspan x="0">-</tspan><tspan class="z" x="8.43">0</tspan><tspan x="17.34">.</tspan><tspan class="z" x="25.76">0</tspan><tspan x="34.68">2</tspan><tspan class="z" x="43.1">0</tspan><tspan x="52.02">94</tspan></text>
<text class="mono" font-size="14.4" transform="translate(1316.2 992.68) scale(0.9285 1)"><tspan x="0">-</tspan><tspan class="z" x="8.43">0</tspan><tspan x="17.34">.</tspan><tspan class="z" x="25.76">0</tspan><tspan x="34.68">244</tspan></text>
<text class="mono" font-size="14.4" transform="translate(1316.2 1012.22) scale(0.9285 1)"><tspan x="0">-</tspan><tspan class="z" x="8.43">0</tspan><tspan x="17.34">.</tspan><tspan class="z" x="25.76">0</tspan><tspan x="34.68">279</tspan></text>
<text class="mono" font-size="14.4" transform="translate(1316.2 1031.76) scale(0.9285 1)"><tspan x="0">-</tspan><tspan class="z" x="8.43">0</tspan><tspan x="17.34">.</tspan><tspan class="z" x="25.76">0</tspan><tspan x="34.68">314</tspan></text>
<text class="mono" font-size="14.4" transform="translate(1316.2 1051.3) scale(0.9285 1)"><tspan x="0">-</tspan><tspan class="z" x="8.43">0</tspan><tspan x="17.34">.</tspan><tspan class="z" x="25.76">0</tspan><tspan x="34.68">349</tspan></text>
<text class="mono" font-size="14.4" transform="translate(1289.3 808.5) scale(0.9285 1)"><tspan x="0">Wavefront</tspan></text>
<text class="mono" font-size="14.4" transform="translate(1289.3 824.7) scale(0.9285 1)"><tspan x="0">Function</tspan></text>
<text class="mono" font-size="11.8" transform="translate(1316.4 1072) scale(0.9403 1)"><tspan x="0">Waves</tspan></text>
<rect x="1962.3" y="852.4" width="25.3" height="195" fill="url(#cb)"/>
<text class="mono" font-size="14.4" transform="translate(1989.5 857.3) scale(0.9285 1)"><tspan x="0">1.279e-3</tspan></text>
<text class="mono" font-size="14.4" transform="translate(1989.5 876.8) scale(0.9285 1)"><tspan x="0">-1.71e-3</tspan></text>
<text class="mono" font-size="14.4" transform="translate(1989.5 896.3) scale(0.9285 1)"><tspan x="0">-4.71e-3</tspan></text>
<text class="mono" font-size="14.4" transform="translate(1989.5 915.8) scale(0.9285 1)"><tspan x="0">-7.7</tspan><tspan class="z" x="34.43">0</tspan><tspan x="43.35">e-3</tspan></text>
<text class="mono" font-size="14.4" transform="translate(1989.5 935.3) scale(0.9285 1)"><tspan x="0">-</tspan><tspan class="z" x="8.43">0</tspan><tspan x="17.34">.</tspan><tspan class="z" x="25.76">0</tspan><tspan x="34.68">1</tspan><tspan class="z" x="43.1">0</tspan><tspan x="52.02">7</tspan></text>
<text class="mono" font-size="14.4" transform="translate(1989.5 954.8) scale(0.9285 1)"><tspan x="0">-</tspan><tspan class="z" x="8.43">0</tspan><tspan x="17.34">.</tspan><tspan class="z" x="25.76">0</tspan><tspan x="34.68">137</tspan></text>
<text class="mono" font-size="14.4" transform="translate(1989.5 974.3) scale(0.9285 1)"><tspan x="0">-</tspan><tspan class="z" x="8.43">0</tspan><tspan x="17.34">.</tspan><tspan class="z" x="25.76">0</tspan><tspan x="34.68">167</tspan></text>
<text class="mono" font-size="14.4" transform="translate(1989.5 993.8) scale(0.9285 1)"><tspan x="0">-</tspan><tspan class="z" x="8.43">0</tspan><tspan x="17.34">.</tspan><tspan class="z" x="25.76">0</tspan><tspan x="34.68">197</tspan></text>
<text class="mono" font-size="14.4" transform="translate(1989.5 1013.3) scale(0.9285 1)"><tspan x="0">-</tspan><tspan class="z" x="8.43">0</tspan><tspan x="17.34">.</tspan><tspan class="z" x="25.76">0</tspan><tspan x="34.68">2266</tspan></text>
<text class="mono" font-size="14.4" transform="translate(1989.5 1032.8) scale(0.9285 1)"><tspan x="0">-</tspan><tspan class="z" x="8.43">0</tspan><tspan x="17.34">.</tspan><tspan class="z" x="25.76">0</tspan><tspan x="34.68">2566</tspan></text>
<text class="mono" font-size="14.4" transform="translate(1989.5 1052.3) scale(0.9285 1)"><tspan x="0">-</tspan><tspan class="z" x="8.43">0</tspan><tspan x="17.34">.</tspan><tspan class="z" x="25.76">0</tspan><tspan x="34.68">2865</tspan></text>
<text class="mono" font-size="14.4" transform="translate(1962.3 810) scale(0.9285 1)"><tspan x="0">Wavefront</tspan></text>
<text class="mono" font-size="14.4" transform="translate(1962.3 826.2) scale(0.9285 1)"><tspan x="0">Function</tspan></text>
<text class="mono" font-size="11.8" transform="translate(1989.3 1073.2) scale(0.9403 1)"><tspan x="0">Waves</tspan></text>
<text class="mono" font-size="22.28" transform="translate(74.5 1155.5)" stroke="#1a1a1a" stroke-width="0.3"><tspan class="z" x="-0.38">0</tspan><tspan x="13.41">.43</tspan><tspan class="z" x="53.28">0</tspan><tspan class="z" x="66.69">0</tspan><tspan x="80.48"> µm at </tspan><tspan class="z" x="174">0</tspan><tspan x="187.79">.</tspan><tspan class="z" x="200.83">0</tspan><tspan class="z" x="214.24">0</tspan><tspan class="z" x="227.65">0</tspan><tspan class="z" x="241.07">0</tspan><tspan x="254.86"> (deg)</tspan></text>
<text class="mono" font-size="22.28" transform="translate(74.5 1182.5)" stroke="#1a1a1a" stroke-width="0.3"><tspan x="0">Peak to valley = </tspan><tspan class="z" x="227.65">0</tspan><tspan x="241.45">.</tspan><tspan class="z" x="254.48">0</tspan><tspan x="268.27">516 waves, RMS = </tspan><tspan class="z" x="495.93">0</tspan><tspan x="509.72">.</tspan><tspan class="z" x="522.76">0</tspan><tspan x="536.55">178 waves</tspan><tspan fill="#cfcfcf" stroke="none"><tspan x="657.27">.</tspan></tspan></text>
<text class="mono" font-size="22.28" transform="translate(74.5 1209.5)" stroke="#1a1a1a" stroke-width="0.3"><tspan x="0">Surface: Image</tspan></text>
<text class="mono" font-size="22.28" transform="translate(74.5 1236.5)" stroke="#1a1a1a" stroke-width="0.3"><tspan x="0">Exit Pupil Diameter: 6.4357E+</tspan><tspan class="z" x="388.62">0</tspan><tspan x="402.41">1 Millimeters</tspan></text>
<text class="mono" font-size="22.28" transform="translate(755 1154.5)" stroke="#1a1a1a" stroke-width="0.3"><tspan class="z" x="-0.38">0</tspan><tspan x="13.41">.59</tspan><tspan class="z" x="53.28">0</tspan><tspan class="z" x="66.69">0</tspan><tspan x="80.48"> µm at </tspan><tspan class="z" x="174">0</tspan><tspan x="187.79">.</tspan><tspan class="z" x="200.83">0</tspan><tspan class="z" x="214.24">0</tspan><tspan class="z" x="227.65">0</tspan><tspan class="z" x="241.07">0</tspan><tspan x="254.86"> (deg)</tspan></text>
<text class="mono" font-size="22.28" transform="translate(755 1181.5)" stroke="#1a1a1a" stroke-width="0.3"><tspan x="0">Peak to valley = </tspan><tspan class="z" x="227.65">0</tspan><tspan x="241.45">.</tspan><tspan class="z" x="254.48">0</tspan><tspan x="268.27">349 waves, RMS = </tspan><tspan class="z" x="495.93">0</tspan><tspan x="509.72">.</tspan><tspan class="z" x="522.76">0</tspan><tspan x="536.55">1</tspan><tspan class="z" x="549.58">0</tspan><tspan x="563.37">8 waves</tspan><tspan fill="#cfcfcf" stroke="none"><tspan x="657.27">.</tspan></tspan></text>
<text class="mono" font-size="22.28" transform="translate(755 1208.5)" stroke="#1a1a1a" stroke-width="0.3"><tspan x="0">Surface: Image</tspan></text>
<text class="mono" font-size="22.28" transform="translate(755 1235.5)" stroke="#1a1a1a" stroke-width="0.3"><tspan x="0">Exit Pupil Diameter: 7.3142E+</tspan><tspan class="z" x="388.62">0</tspan><tspan x="402.41">1 Millimeters</tspan></text>
<text class="mono" font-size="22.28" transform="translate(1436 1154.5)" stroke="#1a1a1a" stroke-width="0.3"><tspan class="z" x="-0.38">0</tspan><tspan x="13.41">.71</tspan><tspan class="z" x="53.28">0</tspan><tspan class="z" x="66.69">0</tspan><tspan x="80.48"> µm at </tspan><tspan class="z" x="174">0</tspan><tspan x="187.79">.</tspan><tspan class="z" x="200.83">0</tspan><tspan class="z" x="214.24">0</tspan><tspan class="z" x="227.65">0</tspan><tspan class="z" x="241.07">0</tspan><tspan x="254.86"> (deg)</tspan></text>
<text class="mono" font-size="22.28" transform="translate(1436 1181.5)" stroke="#1a1a1a" stroke-width="0.3"><tspan x="0">Peak to valley = </tspan><tspan class="z" x="227.65">0</tspan><tspan x="241.45">.</tspan><tspan class="z" x="254.48">0</tspan><tspan x="268.27">299 waves, RMS = </tspan><tspan class="z" x="495.93">0</tspan><tspan x="509.72">.</tspan><tspan class="z" x="522.76">0</tspan><tspan x="536.55">11</tspan><tspan class="z" x="563">0</tspan><tspan x="576.79"> waves</tspan><tspan fill="#cfcfcf" stroke="none"><tspan x="657.27">.</tspan></tspan></text>
<text class="mono" font-size="22.28" transform="translate(1436 1208.5)" stroke="#1a1a1a" stroke-width="0.3"><tspan x="0">Surface: Image</tspan></text>
<text class="mono" font-size="22.28" transform="translate(1436 1235.5)" stroke="#1a1a1a" stroke-width="0.3"><tspan x="0">Exit Pupil Diameter: 7.5876E+</tspan><tspan class="z" x="388.62">0</tspan><tspan x="402.41">1 Millimeters</tspan></text>
<polygon points="503.3,970 500.8,974.2 501.4,978.7 497.5,982.3 497.1,986.6 492,989.2 490.6,993 485.4,994.9 483.4,998.3 478.1,999.7 476.2,1003.1 470.4,1003.8 468.7,1007.5 462.5,1007.3 460.5,1010.8 454.5,1010.3 452.1,1013.8 446.3,1013 443.4,1015.8 438,1015.3 435.1,1018.4 429.7,1017.3 426.5,1020.1 421.3,1019 417.9,1021.6 412.8,1020.5 409.3,1023 404.4,1021.8 400.8,1024.3 395.9,1022.8 392.4,1026.1 387.4,1023.6 383.7,1026.7 378.9,1024.3 375.1,1027.3 370.4,1024.7 366.4,1027.6 361.9,1024.9 357.7,1027 353.4,1025 349.1,1027.1 344.9,1024.9 340.4,1027.3 336.4,1024.5 331.8,1027 328,1024 323.1,1026.5 319.5,1023.3 314.5,1025.7 311.1,1022.4 306.3,1023.7 302.7,1021.3 297.6,1023 294.4,1020 289.1,1021.6 286.1,1018.4 280.7,1019.7 277.8,1016.6 272.6,1017.3 269.7,1014.6 264.2,1015.3 261.6,1012.2 256.3,1012.3 253.6,1009.5 247.6,1010 245.9,1006.4 239.8,1006.5 238.3,1002.9 232.6,1002.4 231,998.9 225.6,997.7 224.2,994.2 218.3,992.8 218,988.8 212.9,986.4 212.9,982.3 208.2,979.1 209.7,974.7 206.4,970.6 209.5,966.3 208.6,961.9 212.6,958.2 213.1,954 217.9,951.3 219.1,947.4 224.5,945.5 226.3,942 231.8,940.6 234.1,937.5 239.4,936.5 241.9,933.4 247.3,932.9 249.6,929.7 255.4,929.9 258.4,927.3 263.6,927.2 266.7,924.7 271.8,924.9 274.8,921.9 280.2,922.8 283.4,920.3 288.5,921.1 291.8,918.4 297,919.6 300.4,917 305.4,918.3 309,915.9 313.9,917.2 317.5,914.3 322.4,916.4 326.3,914.3 330.9,915.8 334.8,913.6 339.4,915.3 343.5,913.4 347.9,915.1 352.1,912.8 356.4,915 360.7,913.2 364.9,915.1 369.3,913.3 373.4,915.4 378,913.3 381.8,915.9 386.5,914.4 390.3,916.6 395.1,915 398.7,917.5 403.7,915.7 407.1,918.6 411.9,917.7 415.4,919.9 420.3,919.2 423.7,921.4 428.8,920.7 432,923.2 437.4,922.3 440.2,925.3 445.6,924.7 448.2,927.6 453.4,927.6 456.2,930.3 461.5,930.4 464,933.3 469.2,933.9 471.6,936.8 477,937.6 478.9,940.8 483.8,942.2 485.8,945.4 491.1,947.1 492,950.8 497.1,953.1 497.2,957.2 501.7,960.4 500.5,964.7 503.5,968.8" fill="#1c1478"/>
<ellipse cx="355.2" cy="970" rx="146.5" ry="55.5" fill="#1c197d"/>
<ellipse cx="355.2" cy="970" rx="146.5" ry="55.5" fill="url(#sh)"/>
<ellipse cx="355.2" cy="970.1" rx="146.1" ry="54.3" fill="#1b1c81"/>
<ellipse cx="355.2" cy="970.1" rx="146.1" ry="54.3" fill="url(#sh)"/>
<ellipse cx="355.2" cy="970.2" rx="145.6" ry="53.1" fill="#1b1f84"/>
<ellipse cx="355.2" cy="970.2" rx="145.6" ry="53.1" fill="url(#sh)"/>
<ellipse cx="355.2" cy="970.4" rx="145" ry="51.5" fill="#1b2489"/>
<ellipse cx="355.2" cy="970.4" rx="145" ry="51.5" fill="url(#sh)"/>
<ellipse cx="355.2" cy="970.6" rx="144.5" ry="50" fill="#1a288e"/>
<ellipse cx="355.2" cy="970.6" rx="144.5" ry="50" fill="url(#sh)"/>
<ellipse cx="355.2" cy="970.8" rx="143.9" ry="48.4" fill="#1a2d91"/>
<ellipse cx="355.2" cy="970.8" rx="143.9" ry="48.4" fill="url(#sh)"/>
<ellipse cx="355.2" cy="970.5" rx="143.6" ry="47" fill="#1a3192"/>
<ellipse cx="355.2" cy="970.5" rx="143.6" ry="47" fill="url(#sh)"/>
<ellipse cx="355.2" cy="970.3" rx="143.3" ry="45.6" fill="#1a3693"/>
<ellipse cx="355.2" cy="970.3" rx="143.3" ry="45.6" fill="url(#sh)"/>
<ellipse cx="355.2" cy="970.1" rx="143.1" ry="44.2" fill="#1a3b94"/>
<ellipse cx="355.2" cy="970.1" rx="143.1" ry="44.2" fill="url(#sh)"/>
<ellipse cx="355.3" cy="969.9" rx="142.8" ry="42.8" fill="#1a3f95"/>
<ellipse cx="355.3" cy="969.9" rx="142.8" ry="42.8" fill="url(#sh)"/>
<ellipse cx="355.3" cy="969.6" rx="142.6" ry="41.4" fill="#1a4497"/>
<ellipse cx="355.3" cy="969.6" rx="142.6" ry="41.4" fill="url(#sh)"/>
<ellipse cx="355.3" cy="969.2" rx="142.4" ry="40.1" fill="#1a4998"/>
<ellipse cx="355.3" cy="969.2" rx="142.4" ry="40.1" fill="url(#sh)"/>
<ellipse cx="355.3" cy="968.8" rx="142.3" ry="38.7" fill="#1a4e97"/>
<ellipse cx="355.3" cy="968.8" rx="142.3" ry="38.7" fill="url(#sh)"/>
<ellipse cx="355.3" cy="968.4" rx="142.2" ry="37.4" fill="#1a5296"/>
<ellipse cx="355.3" cy="968.4" rx="142.2" ry="37.4" fill="url(#sh)"/>
<ellipse cx="355.4" cy="968.1" rx="142" ry="36.1" fill="#1a5695"/>
<ellipse cx="355.4" cy="968.1" rx="142" ry="36.1" fill="url(#sh)"/>
<ellipse cx="355.4" cy="967.7" rx="141.9" ry="34.8" fill="#1a5a94"/>
<ellipse cx="355.4" cy="967.7" rx="141.9" ry="34.8" fill="url(#sh)"/>
<ellipse cx="355.4" cy="967.3" rx="141.8" ry="33.4" fill="#1a5e93"/>
<ellipse cx="355.4" cy="967.3" rx="141.8" ry="33.4" fill="url(#sh)"/>
<ellipse cx="355.4" cy="966.9" rx="141.6" ry="32.1" fill="#1a6392"/>
<ellipse cx="355.4" cy="966.9" rx="141.6" ry="32.1" fill="url(#sh)"/>
<ellipse cx="355.5" cy="966.2" rx="141.5" ry="31" fill="#1a6791"/>
<ellipse cx="355.5" cy="966.2" rx="141.5" ry="31" fill="url(#sh)"/>
<ellipse cx="355.5" cy="965.6" rx="141.4" ry="30" fill="#1a6b8f"/>
<ellipse cx="355.5" cy="965.6" rx="141.4" ry="30" fill="url(#sh)"/>
<ellipse cx="355.5" cy="965" rx="141.3" ry="28.9" fill="#1a6e8c"/>
<ellipse cx="355.5" cy="965" rx="141.3" ry="28.9" fill="url(#sh)"/>
<ellipse cx="355.6" cy="964.4" rx="141.2" ry="27.8" fill="#1a7288"/>
<ellipse cx="355.6" cy="964.4" rx="141.2" ry="27.8" fill="url(#sh)"/>
<ellipse cx="355.6" cy="963.8" rx="141.1" ry="26.7" fill="#1a7585"/>
<ellipse cx="355.6" cy="963.8" rx="141.1" ry="26.7" fill="url(#sh)"/>
<ellipse cx="355.6" cy="963.1" rx="141" ry="25.6" fill="#1a7882"/>
<ellipse cx="355.6" cy="963.1" rx="141" ry="25.6" fill="url(#sh)"/>
<ellipse cx="355.7" cy="962.2" rx="140.9" ry="24.9" fill="#1a7c7e"/>
<ellipse cx="355.7" cy="962.2" rx="140.9" ry="24.9" fill="url(#sh)"/>
<ellipse cx="355.7" cy="961.2" rx="140.8" ry="24.1" fill="#1a7f7b"/>
<ellipse cx="355.7" cy="961.2" rx="140.8" ry="24.1" fill="url(#sh)"/>
<ellipse cx="355.8" cy="960.3" rx="140.7" ry="23.4" fill="#1a8377"/>
<ellipse cx="355.8" cy="960.3" rx="140.7" ry="23.4" fill="url(#sh)"/>
<ellipse cx="355.8" cy="959.3" rx="140.6" ry="22.6" fill="#1a8674"/>
<ellipse cx="355.8" cy="959.3" rx="140.6" ry="22.6" fill="url(#sh)"/>
<ellipse cx="355.9" cy="958.4" rx="140.5" ry="21.9" fill="#1a8a70"/>
<ellipse cx="355.9" cy="958.4" rx="140.5" ry="21.9" fill="url(#sh)"/>
<ellipse cx="355.9" cy="957.3" rx="140.4" ry="21.4" fill="#1b8b6e"/>
<ellipse cx="355.9" cy="957.3" rx="140.4" ry="21.4" fill="url(#sh)"/>
<ellipse cx="355.9" cy="956.2" rx="140.3" ry="21" fill="#1c8c6b"/>
<ellipse cx="355.9" cy="956.2" rx="140.3" ry="21" fill="url(#sh)"/>
<ellipse cx="355.9" cy="955.1" rx="140.2" ry="20.6" fill="#1d8d68"/>
<ellipse cx="355.9" cy="955.1" rx="140.2" ry="20.6" fill="url(#sh)"/>
<ellipse cx="355.9" cy="954" rx="140.2" ry="20.1" fill="#1f8e65"/>
<ellipse cx="355.9" cy="954" rx="140.2" ry="20.1" fill="url(#sh)"/>
<ellipse cx="355.9" cy="952.9" rx="140.1" ry="19.7" fill="#208f62"/>
<ellipse cx="355.9" cy="952.9" rx="140.1" ry="19.7" fill="url(#sh)"/>
<ellipse cx="355.9" cy="951.8" rx="140" ry="19.2" fill="#21905f"/>
<ellipse cx="355.9" cy="951.8" rx="140" ry="19.2" fill="url(#sh)"/>
<ellipse cx="355.9" cy="950.3" rx="139.9" ry="19" fill="#22915c"/>
<ellipse cx="355.9" cy="950.3" rx="139.9" ry="19" fill="url(#sh)"/>
<ellipse cx="355.8" cy="948.9" rx="139.8" ry="18.8" fill="#239259"/>
<ellipse cx="355.8" cy="948.9" rx="139.8" ry="18.8" fill="url(#sh)"/>
<ellipse cx="355.8" cy="947.5" rx="139.7" ry="18.5" fill="#259355"/>
<ellipse cx="355.8" cy="947.5" rx="139.7" ry="18.5" fill="url(#sh)"/>
<ellipse cx="355.8" cy="946.1" rx="139.5" ry="18.2" fill="#269452"/>
<ellipse cx="355.8" cy="946.1" rx="139.5" ry="18.2" fill="url(#sh)"/>
<ellipse cx="355.7" cy="944.7" rx="139.4" ry="18" fill="#27964f"/>
<ellipse cx="355.7" cy="944.7" rx="139.4" ry="18" fill="url(#sh)"/>
<ellipse cx="355.7" cy="943.2" rx="139.3" ry="17.8" fill="#28974c"/>
<ellipse cx="355.7" cy="943.2" rx="139.3" ry="17.8" fill="url(#sh)"/>
<ellipse cx="355.7" cy="941.7" rx="139.2" ry="17.6" fill="#2a9849"/>
<ellipse cx="355.7" cy="941.7" rx="139.2" ry="17.6" fill="url(#sh)"/>
<ellipse cx="355.6" cy="940.2" rx="139.1" ry="17.5" fill="#2c9846"/>
<ellipse cx="355.6" cy="940.2" rx="139.1" ry="17.5" fill="url(#sh)"/>
<ellipse cx="355.6" cy="938.7" rx="138.9" ry="17.3" fill="#2e9844"/>
<ellipse cx="355.6" cy="938.7" rx="138.9" ry="17.3" fill="url(#sh)"/>
<ellipse cx="355.5" cy="937.2" rx="138.8" ry="17.2" fill="#309842"/>
<ellipse cx="355.5" cy="937.2" rx="138.8" ry="17.2" fill="url(#sh)"/>
<ellipse cx="355.5" cy="935.6" rx="138.7" ry="17" fill="#33993f"/>
<ellipse cx="355.5" cy="935.6" rx="138.7" ry="17" fill="url(#sh)"/>
<ellipse cx="355.5" cy="934.1" rx="138.6" ry="16.9" fill="#35993d"/>
<ellipse cx="355.5" cy="934.1" rx="138.6" ry="16.9" fill="url(#sh)"/>
<ellipse cx="355.4" cy="932.5" rx="138.4" ry="16.8" fill="#37993b"/>
<ellipse cx="355.4" cy="932.5" rx="138.4" ry="16.8" fill="url(#sh)"/>
<ellipse cx="355.4" cy="930.9" rx="138.3" ry="16.8" fill="#3a9938"/>
<ellipse cx="355.4" cy="930.9" rx="138.3" ry="16.8" fill="url(#sh)"/>
<ellipse cx="355.3" cy="929.2" rx="138.2" ry="16.8" fill="#3c9936"/>
<ellipse cx="355.3" cy="929.2" rx="138.2" ry="16.8" fill="url(#sh)"/>
<ellipse cx="355.2" cy="927.6" rx="138" ry="16.7" fill="#3e9934"/>
<ellipse cx="355.2" cy="927.6" rx="138" ry="16.7" fill="url(#sh)"/>
<ellipse cx="355.2" cy="926" rx="137.9" ry="16.7" fill="#419931"/>
<ellipse cx="355.2" cy="926" rx="137.9" ry="16.7" fill="url(#sh)"/>
<ellipse cx="355.1" cy="924.4" rx="137.7" ry="16.6" fill="#439a2f"/>
<ellipse cx="355.1" cy="924.4" rx="137.7" ry="16.6" fill="url(#sh)"/>
<ellipse cx="355.1" cy="922.7" rx="137.6" ry="16.6" fill="#459a2d"/>
<ellipse cx="355.1" cy="922.7" rx="137.6" ry="16.6" fill="url(#sh)"/>
<ellipse cx="355.1" cy="921.1" rx="137.5" ry="16.6" fill="#489a2a"/>
<ellipse cx="355.1" cy="921.1" rx="137.5" ry="16.6" fill="url(#sh)"/>
<ellipse cx="355" cy="919.4" rx="137.4" ry="16.6" fill="#4a9a28"/>
<ellipse cx="355" cy="919.4" rx="137.4" ry="16.6" fill="url(#sh)"/>
<ellipse cx="355" cy="917.8" rx="137.2" ry="16.5" fill="#4d9b28"/>
<ellipse cx="355" cy="917.8" rx="137.2" ry="16.5" fill="url(#sh)"/>
<ellipse cx="355" cy="916.1" rx="137.1" ry="16.5" fill="#4f9b28"/>
<ellipse cx="355" cy="916.1" rx="137.1" ry="16.5" fill="url(#sh)"/>
<ellipse cx="354.9" cy="914.5" rx="137" ry="16.5" fill="#529c28"/>
<ellipse cx="354.9" cy="914.5" rx="137" ry="16.5" fill="url(#sh)"/>
<ellipse cx="354.9" cy="912.8" rx="136.9" ry="16.5" fill="#559c28"/>
<ellipse cx="354.9" cy="912.8" rx="136.9" ry="16.5" fill="url(#sh)"/>
<ellipse cx="354.9" cy="911.2" rx="136.8" ry="16.5" fill="#579c28"/>
<ellipse cx="354.9" cy="911.2" rx="136.8" ry="16.5" fill="url(#sh)"/>
<ellipse cx="354.9" cy="909.5" rx="136.7" ry="16.5" fill="#5a9d28"/>
<ellipse cx="354.9" cy="909.5" rx="136.7" ry="16.5" fill="url(#sh)"/>
<ellipse cx="354.9" cy="907.8" rx="136.5" ry="16.5" fill="#5d9e28"/>
<ellipse cx="354.9" cy="907.8" rx="136.5" ry="16.5" fill="url(#sh)"/>
<ellipse cx="354.9" cy="906.2" rx="136.4" ry="16.5" fill="#5f9e28"/>
<ellipse cx="354.9" cy="906.2" rx="136.4" ry="16.5" fill="url(#sh)"/>
<ellipse cx="354.9" cy="904.5" rx="136.3" ry="16.5" fill="#629e28"/>
<ellipse cx="354.9" cy="904.5" rx="136.3" ry="16.5" fill="url(#sh)"/>
<ellipse cx="354.8" cy="902.6" rx="136.2" ry="16.6" fill="#659f28"/>
<ellipse cx="354.8" cy="902.6" rx="136.2" ry="16.6" fill="url(#sh)"/>
<ellipse cx="354.8" cy="900.8" rx="136" ry="16.6" fill="#68a028"/>
<ellipse cx="354.8" cy="900.8" rx="136" ry="16.6" fill="url(#sh)"/>
<ellipse cx="354.8" cy="898.9" rx="135.8" ry="16.7" fill="#6ba028"/>
<ellipse cx="354.8" cy="898.9" rx="135.8" ry="16.7" fill="url(#sh)"/>
<ellipse cx="354.8" cy="897.1" rx="135.7" ry="16.8" fill="#6ea028"/>
<ellipse cx="354.8" cy="897.1" rx="135.7" ry="16.8" fill="url(#sh)"/>
<ellipse cx="354.7" cy="895.2" rx="135.5" ry="16.8" fill="#71a128"/>
<ellipse cx="354.7" cy="895.2" rx="135.5" ry="16.8" fill="url(#sh)"/>
<ellipse cx="354.7" cy="893.4" rx="135.3" ry="16.9" fill="#74a128"/>
<ellipse cx="354.7" cy="893.4" rx="135.3" ry="16.9" fill="url(#sh)"/>
<ellipse cx="354.7" cy="891.6" rx="135.2" ry="17" fill="#77a228"/>
<ellipse cx="354.7" cy="891.6" rx="135.2" ry="17" fill="url(#sh)"/>
<ellipse cx="354.7" cy="889.9" rx="135" ry="17.1" fill="#7aa228"/>
<ellipse cx="354.7" cy="889.9" rx="135" ry="17.1" fill="url(#sh)"/>
<ellipse cx="354.7" cy="888.1" rx="134.8" ry="17.2" fill="#7da228"/>
<ellipse cx="354.7" cy="888.1" rx="134.8" ry="17.2" fill="url(#sh)"/>
<ellipse cx="354.6" cy="886.4" rx="134.6" ry="17.3" fill="#80a328"/>
<ellipse cx="354.6" cy="886.4" rx="134.6" ry="17.3" fill="url(#sh)"/>
<ellipse cx="354.6" cy="884.6" rx="134.4" ry="17.4" fill="#83a328"/>
<ellipse cx="354.6" cy="884.6" rx="134.4" ry="17.4" fill="url(#sh)"/>
<ellipse cx="354.6" cy="882.9" rx="134.2" ry="17.5" fill="#86a328"/>
<ellipse cx="354.6" cy="882.9" rx="134.2" ry="17.5" fill="url(#sh)"/>
<ellipse cx="354.6" cy="881.1" rx="134.1" ry="17.6" fill="#89a428"/>
<ellipse cx="354.6" cy="881.1" rx="134.1" ry="17.6" fill="url(#sh)"/>
<ellipse cx="354.6" cy="879.3" rx="133.8" ry="17.7" fill="#8ba327"/>
<ellipse cx="354.6" cy="879.3" rx="133.8" ry="17.7" fill="url(#sh)"/>
<ellipse cx="354.5" cy="877.5" rx="133.6" ry="17.7" fill="#8da227"/>
<ellipse cx="354.5" cy="877.5" rx="133.6" ry="17.7" fill="url(#sh)"/>
<ellipse cx="354.5" cy="875.8" rx="133.4" ry="17.7" fill="#8fa126"/>
<ellipse cx="354.5" cy="875.8" rx="133.4" ry="17.7" fill="url(#sh)"/>
<ellipse cx="354.5" cy="874" rx="133.1" ry="17.7" fill="#909f25"/>
<ellipse cx="354.5" cy="874" rx="133.1" ry="17.7" fill="url(#sh)"/>
<ellipse cx="354.5" cy="872.2" rx="132.9" ry="17.8" fill="#929e24"/>
<ellipse cx="354.5" cy="872.2" rx="132.9" ry="17.8" fill="url(#sh)"/>
<ellipse cx="354.4" cy="870.4" rx="132.7" ry="17.8" fill="#949d23"/>
<ellipse cx="354.4" cy="870.4" rx="132.7" ry="17.8" fill="url(#sh)"/>
<ellipse cx="354.4" cy="868.6" rx="132.5" ry="17.8" fill="#969b22"/>
<ellipse cx="354.4" cy="868.6" rx="132.5" ry="17.8" fill="url(#sh)"/>
<ellipse cx="354.4" cy="866.8" rx="132.2" ry="17.8" fill="#979a21"/>
<ellipse cx="354.4" cy="866.8" rx="132.2" ry="17.8" fill="url(#sh)"/>
<ellipse cx="354.4" cy="865" rx="132" ry="17.9" fill="#999920"/>
<ellipse cx="354.4" cy="865" rx="132" ry="17.9" fill="url(#sh)"/>
<ellipse cx="354.4" cy="863.3" rx="131.8" ry="17.9" fill="#9a9720"/>
<ellipse cx="354.4" cy="863.3" rx="131.8" ry="17.9" fill="url(#sh)"/>
<ellipse cx="354.3" cy="861.7" rx="131.5" ry="17.8" fill="#9b9421"/>
<ellipse cx="354.3" cy="861.7" rx="131.5" ry="17.8" fill="url(#sh)"/>
<ellipse cx="354.3" cy="860" rx="131.3" ry="17.8" fill="#9c9122"/>
<ellipse cx="354.3" cy="860" rx="131.3" ry="17.8" fill="url(#sh)"/>
<ellipse cx="354.3" cy="858.3" rx="131.1" ry="17.8" fill="#9d8e23"/>
<ellipse cx="354.3" cy="858.3" rx="131.1" ry="17.8" fill="url(#sh)"/>
<ellipse cx="354.3" cy="856.7" rx="130.8" ry="17.8" fill="#9e8b24"/>
<ellipse cx="354.3" cy="856.7" rx="130.8" ry="17.8" fill="url(#sh)"/>
<ellipse cx="354.2" cy="855" rx="130.6" ry="17.8" fill="#9f8925"/>
<ellipse cx="354.2" cy="855" rx="130.6" ry="17.8" fill="url(#sh)"/>
<ellipse cx="354.2" cy="853.3" rx="130.4" ry="17.7" fill="#9f8625"/>
<ellipse cx="354.2" cy="853.3" rx="130.4" ry="17.7" fill="url(#sh)"/>
<ellipse cx="354.2" cy="851.7" rx="130.1" ry="17.7" fill="#a08226"/>
<ellipse cx="354.2" cy="851.7" rx="130.1" ry="17.7" fill="url(#sh)"/>
<ellipse cx="354.2" cy="850" rx="129.9" ry="17.7" fill="#a07c25"/>
<ellipse cx="354.2" cy="850" rx="129.9" ry="17.7" fill="url(#sh)"/>
<ellipse cx="354.2" cy="848.3" rx="129.7" ry="17.7" fill="#a07624"/>
<ellipse cx="354.2" cy="848.3" rx="129.7" ry="17.7" fill="url(#sh)"/>
<ellipse cx="354.1" cy="846.7" rx="129.4" ry="17.6" fill="#a07024"/>
<ellipse cx="354.1" cy="846.7" rx="129.4" ry="17.6" fill="url(#sh)"/>
<ellipse cx="354.1" cy="845" rx="129.2" ry="17.6" fill="#a06b23"/>
<ellipse cx="354.1" cy="845" rx="129.2" ry="17.6" fill="url(#sh)"/>
<ellipse cx="354.1" cy="843.4" rx="129" ry="17.6" fill="#a06623"/>
<ellipse cx="354.1" cy="843.4" rx="129" ry="17.6" fill="url(#sh)"/>
<ellipse cx="354" cy="841.9" rx="128.7" ry="17.5" fill="#a06123"/>
<ellipse cx="354" cy="841.9" rx="128.7" ry="17.5" fill="url(#sh)"/>
<ellipse cx="354" cy="840.3" rx="128.5" ry="17.5" fill="#a05c22"/>
<ellipse cx="354" cy="840.3" rx="128.5" ry="17.5" fill="url(#sh)"/>
<ellipse cx="354" cy="838.8" rx="128.3" ry="17.4" fill="#a05623"/>
<ellipse cx="354" cy="838.8" rx="128.3" ry="17.4" fill="url(#sh)"/>
<ellipse cx="353.9" cy="837.2" rx="128" ry="17.3" fill="#a14f24"/>
<ellipse cx="353.9" cy="837.2" rx="128" ry="17.3" fill="url(#sh)"/>
<ellipse cx="353.9" cy="835.7" rx="127.8" ry="17.3" fill="#a24725"/>
<ellipse cx="353.9" cy="835.7" rx="127.8" ry="17.3" fill="url(#sh)"/>
<ellipse cx="353.8" cy="834.1" rx="127.6" ry="17.2" fill="#a34026"/>
<ellipse cx="353.8" cy="834.1" rx="127.6" ry="17.2" fill="url(#sh)"/>
<ellipse cx="353.8" cy="832.6" rx="127.3" ry="17.2" fill="#a33827"/>
<ellipse cx="353.8" cy="832.6" rx="127.3" ry="17.2" fill="url(#sh)"/>
<ellipse cx="353.8" cy="831" rx="127.1" ry="17.1" fill="#a43128"/>
<ellipse cx="353.8" cy="831" rx="127.1" ry="17.1" fill="url(#sh)"/>
<ellipse cx="353.6" cy="829.4" rx="126.8" ry="17" fill="#a42e29"/>
<ellipse cx="353.6" cy="829.4" rx="126.8" ry="17" fill="url(#sh)"/>
<ellipse cx="353.6" cy="827.8" rx="126.5" ry="16.8" fill="#a42d29"/>
<ellipse cx="353.6" cy="827.8" rx="126.5" ry="16.8" fill="url(#sh)"/>
<ellipse cx="353.4" cy="826.2" rx="126.3" ry="16.7" fill="#a42b2a"/>
<ellipse cx="353.4" cy="826.2" rx="126.3" ry="16.7" fill="url(#sh)"/>
<ellipse cx="353.4" cy="824.6" rx="126" ry="16.5" fill="#a12828"/>
<ellipse cx="353.4" cy="824.6" rx="126" ry="16.5" fill="url(#sh)"/>
<ellipse cx="353.2" cy="823" rx="125.7" ry="16.4" fill="#9b2424"/>
<ellipse cx="353.2" cy="823" rx="125.7" ry="16.4" fill="url(#sh)"/>
<ellipse cx="353.1" cy="821.5" rx="125.2" ry="16.2" fill="#962020"/>
<ellipse cx="353.1" cy="821.5" rx="125.2" ry="16.2" fill="url(#sh)"/>
<ellipse cx="353" cy="820" rx="124.7" ry="16" fill="#901c1c"/>
<ellipse cx="353" cy="820" rx="124.7" ry="16" fill="url(#sh)"/>
<ellipse cx="352.9" cy="818.5" rx="124.2" ry="15.8" fill="#8a1818"/>
<ellipse cx="352.9" cy="818.5" rx="124.2" ry="15.8" fill="url(#sh)"/>
<ellipse cx="352.8" cy="817" rx="123.8" ry="15.6" fill="#841414"/>
<ellipse cx="352.8" cy="817" rx="123.8" ry="15.6" fill="url(#sh)"/>
<ellipse cx="352.7" cy="815.7" rx="122.9" ry="15.4" fill="#7e1010"/>
<ellipse cx="352.7" cy="815.7" rx="122.9" ry="15.4" fill="url(#sh)"/>
<ellipse cx="352.6" cy="814.3" rx="122.1" ry="15.1" fill="#7d0f0f"/>
<ellipse cx="352.6" cy="814.3" rx="122.1" ry="15.1" fill="url(#sh)"/>
<ellipse cx="352.5" cy="813" rx="121.2" ry="14.9" fill="#7c0e0e"/>
<ellipse cx="352.5" cy="813" rx="121.2" ry="14.9" fill="url(#sh)"/>
<ellipse cx="352.4" cy="812" rx="120.3" ry="14.6" fill="#7b0d0d"/>
<ellipse cx="352.4" cy="812" rx="120.3" ry="14.6" fill="url(#sh)"/>
<ellipse cx="352.4" cy="811" rx="119.4" ry="14.3" fill="#7a0c0c"/>
<ellipse cx="352.4" cy="811" rx="119.4" ry="14.3" fill="url(#sh)"/>
<ellipse cx="352.3" cy="810" rx="118.5" ry="14" fill="#7b0d0d"/>
<ellipse cx="352.3" cy="810" rx="118.5" ry="14" fill="url(#sh)"/>
<ellipse cx="352.3" cy="809" rx="117" ry="13.5" fill="#7e0e0e"/>
<ellipse cx="352.3" cy="809" rx="117" ry="13.5" fill="url(#sh)"/>
<ellipse cx="352.3" cy="808" rx="115.5" ry="13" fill="#801010"/>
<ellipse cx="352.3" cy="808" rx="115.5" ry="13" fill="url(#sh)"/>
<ellipse cx="352.3" cy="807.1" rx="113.2" ry="12.6" fill="#821111"/>
<ellipse cx="352.3" cy="807.1" rx="113.2" ry="12.6" fill="url(#sh)"/>
<ellipse cx="352.3" cy="806.1" rx="111" ry="12.1" fill="#841212"/>
<ellipse cx="352.3" cy="806.1" rx="111" ry="12.1" fill="url(#sh)"/>
<ellipse cx="352.3" cy="805.5" rx="109" ry="11.9" fill="#851313"/>
<ellipse cx="352.3" cy="805.5" rx="109" ry="11.9" fill="url(#sh)"/>
<ellipse cx="352.3" cy="805" rx="107" ry="11.6" fill="#861414"/>
<ellipse cx="352.3" cy="805" rx="107" ry="11.6" fill="url(#sh)"/>
<ellipse cx="352.3" cy="804.4" rx="105" ry="11.4" fill="#871414"/>
<ellipse cx="352.3" cy="804.4" rx="105" ry="11.4" fill="url(#sh)"/>
<ellipse cx="352.3" cy="803.9" rx="103.5" ry="11.2" fill="#881515"/>
<ellipse cx="352.3" cy="803.9" rx="103.5" ry="11.2" fill="url(#sh)"/>
<path d="M216 965v21.3M222.2 964.3v27.9M228.1 974.5v22.1M234.3 982.8v17.6M240.4 979.6v23.8M247.3 990.2v16.3M252.7 992.4v16.3M259.6 986.3v24.7M264.2 983.7v28.8M271.6 990.4v24.2M278 999v17.2M282.5 994.8v22.4M287.2 1000.5v17.7M292.4 1003.7v15.4M298.3 999v21.2M305.3 998.9v22.3M311.7 1000v22M318.2 1001.3v21.4M323.6 994.2v29M331.1 997v26.8M337.7 1004.7v19.4M342.9 1005.3v19M347.6 998.7v25.7M353.3 997.6v26.9M358.9 996.1v28.4M366 1009.3v15M371.1 996.4v27.7M377 995.2v28.7M382.7 1007.5v16M389.1 997.1v25.9M394.4 1006.3v16.2M399.9 993.4v28.5M406.7 1004.3v16.7M411.9 1003.8v16.4M416.6 993.2v26.2M421.6 995.6v22.8M427.5 999.6v17.7M434.2 998.9v16.8M440.6 997.5v16.6M446.4 994.5v18M451.7 982.2v28.6M458.6 989.1v19.3M465.7 987.5v17.9M471.4 975.8v27M477.8 982.9v16.4M485.3 976.5v18M490.6 964.4v25.8" stroke="#16125e" stroke-opacity="0.2" stroke-width="1.8" fill="none"/>
<ellipse cx="352.3" cy="803.5" rx="102" ry="11" fill="url(#cap1)"/>
<ellipse cx="352.3" cy="803.5" rx="102" ry="11" fill="url(#sh)"/>
<path d="M268 816.5C300 806 410 806 441 816.5C405 826 305 826 268 816.5Z" fill="url(#crat1)"/>
<ellipse cx="1025.5" cy="980" rx="16" ry="1.6" fill="#101878"/>
<ellipse cx="1025.5" cy="980" rx="16" ry="1.6" fill="url(#sh2)"/>
<ellipse cx="1025.5" cy="979.9" rx="17.1" ry="1.7" fill="#101878"/>
<ellipse cx="1025.5" cy="979.9" rx="17.1" ry="1.7" fill="url(#sh2)"/>
<ellipse cx="1025.5" cy="979.8" rx="18.1" ry="1.8" fill="#101878"/>
<ellipse cx="1025.5" cy="979.8" rx="18.1" ry="1.8" fill="url(#sh2)"/>
<ellipse cx="1025.5" cy="979.6" rx="19.2" ry="1.9" fill="#101878"/>
<ellipse cx="1025.5" cy="979.6" rx="19.2" ry="1.9" fill="url(#sh2)"/>
<ellipse cx="1025.5" cy="979.4" rx="20.8" ry="2" fill="#101878"/>
<ellipse cx="1025.5" cy="979.4" rx="20.8" ry="2" fill="url(#sh2)"/>
<ellipse cx="1025.5" cy="979.2" rx="22.4" ry="2.2" fill="#101878"/>
<ellipse cx="1025.5" cy="979.2" rx="22.4" ry="2.2" fill="url(#sh2)"/>
<ellipse cx="1025.5" cy="979.1" rx="23.8" ry="2.3" fill="#101878"/>
<ellipse cx="1025.5" cy="979.1" rx="23.8" ry="2.3" fill="url(#sh2)"/>
<ellipse cx="1025.5" cy="978.9" rx="25.2" ry="2.5" fill="#101878"/>
<ellipse cx="1025.5" cy="978.9" rx="25.2" ry="2.5" fill="url(#sh2)"/>
<ellipse cx="1025.5" cy="978.8" rx="26.6" ry="2.6" fill="#101878"/>
<ellipse cx="1025.5" cy="978.8" rx="26.6" ry="2.6" fill="url(#sh2)"/>
<ellipse cx="1025.5" cy="978.6" rx="28" ry="2.7" fill="#101878"/>
<ellipse cx="1025.5" cy="978.6" rx="28" ry="2.7" fill="url(#sh2)"/>
<ellipse cx="1025.5" cy="978.4" rx="29.4" ry="2.9" fill="#101878"/>
<ellipse cx="1025.5" cy="978.4" rx="29.4" ry="2.9" fill="url(#sh2)"/>
<ellipse cx="1025.5" cy="978.2" rx="30.8" ry="3" fill="#101878"/>
<ellipse cx="1025.5" cy="978.2" rx="30.8" ry="3" fill="url(#sh2)"/>
<ellipse cx="1025.5" cy="977.9" rx="32.8" ry="3.2" fill="#101878"/>
<ellipse cx="1025.5" cy="977.9" rx="32.8" ry="3.2" fill="url(#sh2)"/>
<ellipse cx="1025.5" cy="977.6" rx="34.8" ry="3.4" fill="#101878"/>
<ellipse cx="1025.5" cy="977.6" rx="34.8" ry="3.4" fill="url(#sh2)"/>
<ellipse cx="1025.5" cy="977.2" rx="36.7" ry="3.5" fill="#101979"/>
<ellipse cx="1025.5" cy="977.2" rx="36.7" ry="3.5" fill="url(#sh2)"/>
<ellipse cx="1025.5" cy="976.9" rx="38.6" ry="3.7" fill="#101a7a"/>
<ellipse cx="1025.5" cy="976.9" rx="38.6" ry="3.7" fill="url(#sh2)"/>
<ellipse cx="1025.5" cy="976.5" rx="40.5" ry="3.9" fill="#101b7a"/>
<ellipse cx="1025.5" cy="976.5" rx="40.5" ry="3.9" fill="url(#sh2)"/>
<ellipse cx="1025.5" cy="976.1" rx="42.4" ry="4.1" fill="#101c7b"/>
<ellipse cx="1025.5" cy="976.1" rx="42.4" ry="4.1" fill="url(#sh2)"/>
<ellipse cx="1025.5" cy="975.7" rx="44.2" ry="4.2" fill="#0f1d7c"/>
<ellipse cx="1025.5" cy="975.7" rx="44.2" ry="4.2" fill="url(#sh2)"/>
<ellipse cx="1025.5" cy="975.3" rx="46.1" ry="4.4" fill="#0f1e7d"/>
<ellipse cx="1025.5" cy="975.3" rx="46.1" ry="4.4" fill="url(#sh2)"/>
<ellipse cx="1025.6" cy="974.8" rx="47.9" ry="4.6" fill="#0f1f7e"/>
<ellipse cx="1025.6" cy="974.8" rx="47.9" ry="4.6" fill="url(#sh2)"/>
<ellipse cx="1025.6" cy="974.3" rx="49.7" ry="4.8" fill="#0f2080"/>
<ellipse cx="1025.6" cy="974.3" rx="49.7" ry="4.8" fill="url(#sh2)"/>
<ellipse cx="1025.6" cy="973.8" rx="51.5" ry="4.9" fill="#0f2281"/>
<ellipse cx="1025.6" cy="973.8" rx="51.5" ry="4.9" fill="url(#sh2)"/>
<ellipse cx="1025.7" cy="973.3" rx="53.2" ry="5.1" fill="#0f2482"/>
<ellipse cx="1025.7" cy="973.3" rx="53.2" ry="5.1" fill="url(#sh2)"/>
<ellipse cx="1025.8" cy="972.8" rx="55" ry="5.3" fill="#0f2584"/>
<ellipse cx="1025.8" cy="972.8" rx="55" ry="5.3" fill="url(#sh2)"/>
<ellipse cx="1025.8" cy="972.2" rx="56.8" ry="5.5" fill="#0e2785"/>
<ellipse cx="1025.8" cy="972.2" rx="56.8" ry="5.5" fill="url(#sh2)"/>
<ellipse cx="1025.8" cy="971.6" rx="58.4" ry="5.6" fill="#0e2987"/>
<ellipse cx="1025.8" cy="971.6" rx="58.4" ry="5.6" fill="url(#sh2)"/>
<ellipse cx="1025.9" cy="970.9" rx="60" ry="5.8" fill="#0e2b88"/>
<ellipse cx="1025.9" cy="970.9" rx="60" ry="5.8" fill="url(#sh2)"/>
<ellipse cx="1025.9" cy="970.2" rx="61.5" ry="6" fill="#0e2c88"/>
<ellipse cx="1025.9" cy="970.2" rx="61.5" ry="6" fill="url(#sh2)"/>
<ellipse cx="1025.9" cy="969.6" rx="63" ry="6.1" fill="#0d2d88"/>
<ellipse cx="1025.9" cy="969.6" rx="63" ry="6.1" fill="url(#sh2)"/>
<ellipse cx="1025.8" cy="968.8" rx="64.4" ry="6.3" fill="#0d2f88"/>
<ellipse cx="1025.8" cy="968.8" rx="64.4" ry="6.3" fill="url(#sh2)"/>
<ellipse cx="1025.8" cy="968.1" rx="65.8" ry="6.4" fill="#0c3088"/>
<ellipse cx="1025.8" cy="968.1" rx="65.8" ry="6.4" fill="url(#sh2)"/>
<ellipse cx="1025.8" cy="967.2" rx="67" ry="6.6" fill="#0c3288"/>
<ellipse cx="1025.8" cy="967.2" rx="67" ry="6.6" fill="url(#sh2)"/>
<ellipse cx="1025.7" cy="966.4" rx="68.2" ry="6.8" fill="#0c3488"/>
<ellipse cx="1025.7" cy="966.4" rx="68.2" ry="6.8" fill="url(#sh2)"/>
<ellipse cx="1025.6" cy="965.6" rx="69.4" ry="6.9" fill="#0b3588"/>
<ellipse cx="1025.6" cy="965.6" rx="69.4" ry="6.9" fill="url(#sh2)"/>
<ellipse cx="1025.5" cy="964.8" rx="70.6" ry="7" fill="#0b3788"/>
<ellipse cx="1025.5" cy="964.8" rx="70.6" ry="7" fill="url(#sh2)"/>
<ellipse cx="1025.4" cy="963.9" rx="71.8" ry="7.2" fill="#0a3988"/>
<ellipse cx="1025.4" cy="963.9" rx="71.8" ry="7.2" fill="url(#sh2)"/>
<ellipse cx="1025.3" cy="963.1" rx="72.9" ry="7.3" fill="#0a3b87"/>
<ellipse cx="1025.3" cy="963.1" rx="72.9" ry="7.3" fill="url(#sh2)"/>
<ellipse cx="1025.2" cy="962.2" rx="73.9" ry="7.5" fill="#0a3d86"/>
<ellipse cx="1025.2" cy="962.2" rx="73.9" ry="7.5" fill="url(#sh2)"/>
<ellipse cx="1025.1" cy="961.4" rx="75" ry="7.6" fill="#0a4084"/>
<ellipse cx="1025.1" cy="961.4" rx="75" ry="7.6" fill="url(#sh2)"/>
<ellipse cx="1024.9" cy="959.6" rx="77" ry="7.9" fill="#0a4580"/>
<ellipse cx="1024.9" cy="959.6" rx="77" ry="7.9" fill="url(#sh2)"/>
<ellipse cx="1024.7" cy="957.9" rx="78.8" ry="8.2" fill="#0a497c"/>
<ellipse cx="1024.7" cy="957.9" rx="78.8" ry="8.2" fill="url(#sh2)"/>
<ellipse cx="1024.5" cy="956.1" rx="80.5" ry="8.4" fill="#0a4e79"/>
<ellipse cx="1024.5" cy="956.1" rx="80.5" ry="8.4" fill="url(#sh2)"/>
<ellipse cx="1024.4" cy="954.4" rx="82.1" ry="8.6" fill="#0a5375"/>
<ellipse cx="1024.4" cy="954.4" rx="82.1" ry="8.6" fill="url(#sh2)"/>
<ellipse cx="1024.3" cy="952.6" rx="83.4" ry="8.9" fill="#0a5871"/>
<ellipse cx="1024.3" cy="952.6" rx="83.4" ry="8.9" fill="url(#sh2)"/>
<ellipse cx="1024.2" cy="950.9" rx="84.8" ry="9.1" fill="#0a5c6d"/>
<ellipse cx="1024.2" cy="950.9" rx="84.8" ry="9.1" fill="url(#sh2)"/>
<ellipse cx="1024.2" cy="949.1" rx="86.1" ry="9.3" fill="#0a5f67"/>
<ellipse cx="1024.2" cy="949.1" rx="86.1" ry="9.3" fill="url(#sh2)"/>
<ellipse cx="1024.1" cy="947.4" rx="87.4" ry="9.5" fill="#0a6262"/>
<ellipse cx="1024.1" cy="947.4" rx="87.4" ry="9.5" fill="url(#sh2)"/>
<ellipse cx="1024.1" cy="945.6" rx="88.6" ry="9.7" fill="#0a645d"/>
<ellipse cx="1024.1" cy="945.6" rx="88.6" ry="9.7" fill="url(#sh2)"/>
<ellipse cx="1024.1" cy="944.7" rx="89.2" ry="9.8" fill="#0a665a"/>
<ellipse cx="1024.1" cy="944.7" rx="89.2" ry="9.8" fill="url(#sh2)"/>
<ellipse cx="1024" cy="943.8" rx="89.8" ry="9.9" fill="#0a6758"/>
<ellipse cx="1024" cy="943.8" rx="89.8" ry="9.9" fill="url(#sh2)"/>
<ellipse cx="1024" cy="942.9" rx="90.4" ry="9.9" fill="#0a6955"/>
<ellipse cx="1024" cy="942.9" rx="90.4" ry="9.9" fill="url(#sh2)"/>
<ellipse cx="1024" cy="941.9" rx="90.9" ry="9.9" fill="#0a6b52"/>
<ellipse cx="1024" cy="941.9" rx="90.9" ry="9.9" fill="url(#sh2)"/>
<ellipse cx="1024" cy="941" rx="91.5" ry="10" fill="#0a6c4e"/>
<ellipse cx="1024" cy="941" rx="91.5" ry="10" fill="url(#sh2)"/>
<ellipse cx="1024" cy="940" rx="92" ry="10" fill="#0a6e4b"/>
<ellipse cx="1024" cy="940" rx="92" ry="10" fill="url(#sh2)"/>
<ellipse cx="1024" cy="939" rx="92.5" ry="10" fill="#0a7048"/>
<ellipse cx="1024" cy="939" rx="92.5" ry="10" fill="url(#sh2)"/>
<ellipse cx="1024" cy="938" rx="93" ry="10" fill="#0a7145"/>
<ellipse cx="1024" cy="938" rx="93" ry="10" fill="url(#sh2)"/>
<ellipse cx="1024" cy="936.7" rx="93.6" ry="10" fill="#0b7340"/>
<ellipse cx="1024" cy="936.7" rx="93.6" ry="10" fill="url(#sh2)"/>
<ellipse cx="1024" cy="935.4" rx="94.2" ry="10.1" fill="#0c753c"/>
<ellipse cx="1024" cy="935.4" rx="94.2" ry="10.1" fill="url(#sh2)"/>
<ellipse cx="1024.1" cy="933.9" rx="94.9" ry="10.1" fill="#0c7737"/>
<ellipse cx="1024.1" cy="933.9" rx="94.9" ry="10.1" fill="url(#sh2)"/>
<ellipse cx="1024.1" cy="932.3" rx="95.7" ry="10.2" fill="#0d7932"/>
<ellipse cx="1024.1" cy="932.3" rx="95.7" ry="10.2" fill="url(#sh2)"/>
<ellipse cx="1024.1" cy="931.1" rx="96.2" ry="10.2" fill="#0e7a2e"/>
<ellipse cx="1024.1" cy="931.1" rx="96.2" ry="10.2" fill="url(#sh2)"/>
<ellipse cx="1024.2" cy="929.9" rx="96.8" ry="10.3" fill="#0e7c2b"/>
<ellipse cx="1024.2" cy="929.9" rx="96.8" ry="10.3" fill="url(#sh2)"/>
<ellipse cx="1024.2" cy="928.6" rx="97.3" ry="10.4" fill="#0f7d27"/>
<ellipse cx="1024.2" cy="928.6" rx="97.3" ry="10.4" fill="url(#sh2)"/>
<ellipse cx="1024.2" cy="927.2" rx="97.9" ry="10.5" fill="#107f22"/>
<ellipse cx="1024.2" cy="927.2" rx="97.9" ry="10.5" fill="url(#sh2)"/>
<ellipse cx="1024.3" cy="925.8" rx="98.6" ry="10.5" fill="#12801f"/>
<ellipse cx="1024.3" cy="925.8" rx="98.6" ry="10.5" fill="url(#sh2)"/>
<ellipse cx="1024.3" cy="924.4" rx="99.2" ry="10.6" fill="#15801c"/>
<ellipse cx="1024.3" cy="924.4" rx="99.2" ry="10.6" fill="url(#sh2)"/>
<ellipse cx="1024.3" cy="923" rx="99.8" ry="10.7" fill="#178019"/>
<ellipse cx="1024.3" cy="923" rx="99.8" ry="10.7" fill="url(#sh2)"/>
<ellipse cx="1024.4" cy="921.6" rx="100.4" ry="10.8" fill="#1a8016"/>
<ellipse cx="1024.4" cy="921.6" rx="100.4" ry="10.8" fill="url(#sh2)"/>
<ellipse cx="1024.4" cy="920.2" rx="101" ry="10.9" fill="#1d8014"/>
<ellipse cx="1024.4" cy="920.2" rx="101" ry="10.9" fill="url(#sh2)"/>
<ellipse cx="1024.4" cy="918.8" rx="101.6" ry="11" fill="#208011"/>
<ellipse cx="1024.4" cy="918.8" rx="101.6" ry="11" fill="url(#sh2)"/>
<ellipse cx="1024.4" cy="917.4" rx="102.2" ry="11.1" fill="#23800e"/>
<ellipse cx="1024.4" cy="917.4" rx="102.2" ry="11.1" fill="url(#sh2)"/>
<ellipse cx="1024.5" cy="916.1" rx="102.8" ry="11.2" fill="#26800c"/>
<ellipse cx="1024.5" cy="916.1" rx="102.8" ry="11.2" fill="url(#sh2)"/>
<ellipse cx="1024.5" cy="914.7" rx="103.4" ry="11.3" fill="#298009"/>
<ellipse cx="1024.5" cy="914.7" rx="103.4" ry="11.3" fill="url(#sh2)"/>
<ellipse cx="1024.5" cy="913.4" rx="104" ry="11.4" fill="#2b8008"/>
<ellipse cx="1024.5" cy="913.4" rx="104" ry="11.4" fill="url(#sh2)"/>
<ellipse cx="1024.5" cy="912" rx="104.6" ry="11.6" fill="#2e8007"/>
<ellipse cx="1024.5" cy="912" rx="104.6" ry="11.6" fill="url(#sh2)"/>
<ellipse cx="1024.5" cy="910.7" rx="105.2" ry="11.7" fill="#308106"/>
<ellipse cx="1024.5" cy="910.7" rx="105.2" ry="11.7" fill="url(#sh2)"/>
<ellipse cx="1024.5" cy="909.3" rx="105.8" ry="11.8" fill="#328106"/>
<ellipse cx="1024.5" cy="909.3" rx="105.8" ry="11.8" fill="url(#sh2)"/>
<ellipse cx="1024.5" cy="908" rx="106.4" ry="11.9" fill="#348105"/>
<ellipse cx="1024.5" cy="908" rx="106.4" ry="11.9" fill="url(#sh2)"/>
<ellipse cx="1024.5" cy="906.6" rx="107" ry="12.1" fill="#378105"/>
<ellipse cx="1024.5" cy="906.6" rx="107" ry="12.1" fill="url(#sh2)"/>
<ellipse cx="1024.5" cy="905.2" rx="107.6" ry="12.2" fill="#398104"/>
<ellipse cx="1024.5" cy="905.2" rx="107.6" ry="12.2" fill="url(#sh2)"/>
<ellipse cx="1024.5" cy="903.8" rx="108.2" ry="12.4" fill="#3b8203"/>
<ellipse cx="1024.5" cy="903.8" rx="108.2" ry="12.4" fill="url(#sh2)"/>
<ellipse cx="1024.4" cy="902.2" rx="108.9" ry="12.6" fill="#3e8203"/>
<ellipse cx="1024.4" cy="902.2" rx="108.9" ry="12.6" fill="url(#sh2)"/>
<ellipse cx="1024.4" cy="900.8" rx="109.6" ry="12.8" fill="#408202"/>
<ellipse cx="1024.4" cy="900.8" rx="109.6" ry="12.8" fill="url(#sh2)"/>
<ellipse cx="1024.4" cy="899.2" rx="110.2" ry="13" fill="#438202"/>
<ellipse cx="1024.4" cy="899.2" rx="110.2" ry="13" fill="url(#sh2)"/>
<ellipse cx="1024.4" cy="897.7" rx="111" ry="13.2" fill="#468202"/>
<ellipse cx="1024.4" cy="897.7" rx="111" ry="13.2" fill="url(#sh2)"/>
<ellipse cx="1024.3" cy="896.1" rx="111.7" ry="13.4" fill="#498101"/>
<ellipse cx="1024.3" cy="896.1" rx="111.7" ry="13.4" fill="url(#sh2)"/>
<ellipse cx="1024.3" cy="894.5" rx="112.4" ry="13.6" fill="#4c8101"/>
<ellipse cx="1024.3" cy="894.5" rx="112.4" ry="13.6" fill="url(#sh2)"/>
<ellipse cx="1024.3" cy="892.8" rx="113.1" ry="13.9" fill="#4f8101"/>
<ellipse cx="1024.3" cy="892.8" rx="113.1" ry="13.9" fill="url(#sh2)"/>
<ellipse cx="1024.2" cy="891.2" rx="113.9" ry="14.1" fill="#538101"/>
<ellipse cx="1024.2" cy="891.2" rx="113.9" ry="14.1" fill="url(#sh2)"/>
<ellipse cx="1024.2" cy="889.5" rx="114.6" ry="14.4" fill="#568000"/>
<ellipse cx="1024.2" cy="889.5" rx="114.6" ry="14.4" fill="url(#sh2)"/>
<ellipse cx="1024.1" cy="888" rx="115.3" ry="14.6" fill="#598000"/>
<ellipse cx="1024.1" cy="888" rx="115.3" ry="14.6" fill="url(#sh2)"/>
<ellipse cx="1024.1" cy="886.4" rx="116" ry="14.9" fill="#5b8000"/>
<ellipse cx="1024.1" cy="886.4" rx="116" ry="14.9" fill="url(#sh2)"/>
<ellipse cx="1024.1" cy="884.9" rx="116.7" ry="15.2" fill="#5d7f00"/>
<ellipse cx="1024.1" cy="884.9" rx="116.7" ry="15.2" fill="url(#sh2)"/>
<ellipse cx="1024" cy="883.5" rx="117.4" ry="15.5" fill="#5e7e00"/>
<ellipse cx="1024" cy="883.5" rx="117.4" ry="15.5" fill="url(#sh2)"/>
<ellipse cx="1024" cy="882" rx="118" ry="15.8" fill="#607e00"/>
<ellipse cx="1024" cy="882" rx="118" ry="15.8" fill="url(#sh2)"/>
<ellipse cx="1023.9" cy="880.6" rx="118.7" ry="16.1" fill="#617d00"/>
<ellipse cx="1023.9" cy="880.6" rx="118.7" ry="16.1" fill="url(#sh2)"/>
<ellipse cx="1023.9" cy="878.7" rx="119.5" ry="16.5" fill="#637d00"/>
<ellipse cx="1023.9" cy="878.7" rx="119.5" ry="16.5" fill="url(#sh2)"/>
<ellipse cx="1023.8" cy="876.8" rx="120.4" ry="17" fill="#657c00"/>
<ellipse cx="1023.8" cy="876.8" rx="120.4" ry="17" fill="url(#sh2)"/>
<ellipse cx="1023.8" cy="875" rx="121.2" ry="17.5" fill="#677b00"/>
<ellipse cx="1023.8" cy="875" rx="121.2" ry="17.5" fill="url(#sh2)"/>
<ellipse cx="1023.7" cy="873.2" rx="122.1" ry="18" fill="#687b00"/>
<ellipse cx="1023.7" cy="873.2" rx="122.1" ry="18" fill="url(#sh2)"/>
<ellipse cx="1023.6" cy="871.4" rx="123" ry="18.5" fill="#6a7a00"/>
<ellipse cx="1023.6" cy="871.4" rx="123" ry="18.5" fill="url(#sh2)"/>
<ellipse cx="1023.5" cy="869.5" rx="123.9" ry="19.1" fill="#6c7800"/>
<ellipse cx="1023.5" cy="869.5" rx="123.9" ry="19.1" fill="url(#sh2)"/>
<ellipse cx="1023.4" cy="867.5" rx="124.9" ry="19.7" fill="#6e7600"/>
<ellipse cx="1023.4" cy="867.5" rx="124.9" ry="19.7" fill="url(#sh2)"/>
<ellipse cx="1023.3" cy="865.5" rx="125.9" ry="20.3" fill="#707400"/>
<ellipse cx="1023.3" cy="865.5" rx="125.9" ry="20.3" fill="url(#sh2)"/>
<ellipse cx="1023.2" cy="863.4" rx="127" ry="20.9" fill="#727200"/>
<ellipse cx="1023.2" cy="863.4" rx="127" ry="20.9" fill="url(#sh2)"/>
<ellipse cx="1023.1" cy="861.2" rx="128.1" ry="21.6" fill="#747000"/>
<ellipse cx="1023.1" cy="861.2" rx="128.1" ry="21.6" fill="url(#sh2)"/>
<ellipse cx="1023" cy="859" rx="129.2" ry="22.2" fill="#766e00"/>
<ellipse cx="1023" cy="859" rx="129.2" ry="22.2" fill="url(#sh2)"/>
<ellipse cx="1022.9" cy="856.8" rx="130.4" ry="22.9" fill="#786c00"/>
<ellipse cx="1022.9" cy="856.8" rx="130.4" ry="22.9" fill="url(#sh2)"/>
<ellipse cx="1022.8" cy="854.8" rx="131.5" ry="23.5" fill="#7a6a00"/>
<ellipse cx="1022.8" cy="854.8" rx="131.5" ry="23.5" fill="url(#sh2)"/>
<ellipse cx="1022.7" cy="852.9" rx="132.7" ry="24.1" fill="#7b6800"/>
<ellipse cx="1022.7" cy="852.9" rx="132.7" ry="24.1" fill="url(#sh2)"/>
<path d="M888.9 851.4A133.7 24.5 0 0 0 1156.2 851.4Z" fill="#7b6601"/>
<path d="M888.9 851.4A133.7 24.5 0 0 0 1156.2 851.4Z" fill="url(#sh2)"/>
<path d="M887.8 849.8A134.7 24.9 0 0 0 1157.2 849.8Z" fill="#7c6401"/>
<path d="M887.8 849.8A134.7 24.9 0 0 0 1157.2 849.8Z" fill="url(#sh2)"/>
<path d="M886.7 848.6A135.7 25.2 0 0 0 1158.1 848.6Z" fill="#7d6201"/>
<path d="M886.7 848.6A135.7 25.2 0 0 0 1158.1 848.6Z" fill="url(#sh2)"/>
<path d="M885.7 847.4A136.6 25.6 0 0 0 1158.9 847.4Z" fill="#7d6002"/>
<path d="M885.7 847.4A136.6 25.6 0 0 0 1158.9 847.4Z" fill="url(#sh2)"/>
<path d="M883.8 845.6A138.4 25.9 0 0 0 1160.6 845.6Z" fill="#7f5d02"/>
<path d="M883.8 845.6A138.4 25.9 0 0 0 1160.6 845.6Z" fill="url(#sh2)"/>
<path d="M881.8 843.9A140.2 26.3 0 0 0 1162.3 843.9Z" fill="#815802"/>
<path d="M881.8 843.9A140.2 26.3 0 0 0 1162.3 843.9Z" fill="url(#sh2)"/>
<path d="M879.7 842.3A142.2 26.7 0 0 0 1164.2 842.3Z" fill="#835402"/>
<path d="M879.7 842.3A142.2 26.7 0 0 0 1164.2 842.3Z" fill="url(#sh2)"/>
<path d="M878.6 841.5A143.3 26.9 0 0 0 1165.2 841.5Z" fill="#845202"/>
<path d="M878.6 841.5A143.3 26.9 0 0 0 1165.2 841.5Z" fill="url(#sh2)"/>
<path d="M877.4 840.8A144.4 27.1 0 0 0 1166.2 840.8Z" fill="#855002"/>
<path d="M877.4 840.8A144.4 27.1 0 0 0 1166.2 840.8Z" fill="url(#sh2)"/>
<path d="M876.2 840A145.5 27.2 0 0 0 1167.2 840Z" fill="#864e02"/>
<path d="M876.2 840A145.5 27.2 0 0 0 1167.2 840Z" fill="url(#sh2)"/>
<path d="M875.1 839.2A146.6 27.4 0 0 0 1168.3 839.2Z" fill="#874c02"/>
<path d="M875.1 839.2A146.6 27.4 0 0 0 1168.3 839.2Z" fill="url(#sh2)"/>
<path d="M873.9 838.6A147.7 27.6 0 0 0 1169.3 838.6Z" fill="#884b02"/>
<path d="M873.9 838.6A147.7 27.6 0 0 0 1169.3 838.6Z" fill="url(#sh2)"/>
<path d="M872.8 837.9A148.8 27.8 0 0 0 1170.3 837.9Z" fill="#884a02"/>
<path d="M872.8 837.9A148.8 27.8 0 0 0 1170.3 837.9Z" fill="url(#sh2)"/>
<path d="M870.7 836.6A150.8 28.2 0 0 0 1172.2 836.6Z" fill="#884902"/>
<path d="M870.7 836.6A150.8 28.2 0 0 0 1172.2 836.6Z" fill="url(#sh2)"/>
<path d="M868.7 835.5A152.6 28.6 0 0 0 1173.9 835.5Z" fill="#874803"/>
<path d="M868.7 835.5A152.6 28.6 0 0 0 1173.9 835.5Z" fill="url(#sh2)"/>
<path d="M866.8 834.5A154.4 28.9 0 0 0 1175.6 834.5Z" fill="#874803"/>
<path d="M866.8 834.5A154.4 28.9 0 0 0 1175.6 834.5Z" fill="url(#sh2)"/>
<path d="M865 833.6A156.1 29.3 0 0 0 1177.2 833.6Z" fill="#874803"/>
<path d="M865 833.6A156.1 29.3 0 0 0 1177.2 833.6Z" fill="url(#sh2)"/>
<path d="M863.3 832.7A157.7 29.7 0 0 0 1178.7 832.7Z" fill="#874703"/>
<path d="M863.3 832.7A157.7 29.7 0 0 0 1178.7 832.7Z" fill="url(#sh2)"/>
<path d="M861.8 831.9A159.2 30.1 0 0 0 1180.2 831.9Z" fill="#864704"/>
<path d="M861.8 831.9A159.2 30.1 0 0 0 1180.2 831.9Z" fill="url(#sh2)"/>
<path d="M860.2 831.1A160.8 30.4 0 0 0 1181.8 831.1Z" fill="#864604"/>
<path d="M860.2 831.1A160.8 30.4 0 0 0 1181.8 831.1Z" fill="url(#sh2)"/>
<path d="M859.1 830.6A161.9 30.7 0 0 0 1182.9 830.6Z" fill="#864604"/>
<path d="M859.1 830.6A161.9 30.7 0 0 0 1182.9 830.6Z" fill="url(#sh2)"/>
<path d="M858.4 830.2A162.6 30.9 0 0 0 1183.6 830.2Z" fill="#864604"/>
<path d="M858.4 830.2A162.6 30.9 0 0 0 1183.6 830.2Z" fill="url(#sh2)"/>
<path d="M858 830A163 31 0 0 0 1184 830Z" fill="#864604"/>
<path d="M858 830A163 31 0 0 0 1184 830Z" fill="url(#sh2)"/>
<polygon points="1184.4,830 1183.3,834.2 1182.2,837.4 1179.4,839.6 1177.6,841.7 1174.6,843 1172.5,844.6 1169.6,845.6 1167.5,846.9 1164.5,847.7 1162.3,848.8 1159.2,849.4 1157,850.5 1153.9,850.9 1151.7,851.9 1148.6,852.2 1146.2,853.1 1143.2,853.4 1140.8,854.2 1137.8,854.4 1135.4,855.3 1132.3,855.3 1129.8,856.1 1126.8,856.2 1124.3,857 1121.2,857 1118.6,857.6 1115.5,857.6 1113,858.4 1109.9,858.3 1107.3,859 1104.1,858.8 1101.4,859.5 1098.3,859.4 1095.6,860.1 1092.4,859.8 1089.7,860.6 1086.5,860.2 1083.6,860.8 1080.4,860.6 1077.5,861.1 1074.3,860.9 1071.4,861.5 1068.1,861.2 1065.1,861.9 1061.7,861.4 1058.6,862 1055.2,861.6 1052,862.1 1048.5,861.8 1045.1,862.3 1041.6,861.9 1038,862.3 1034.2,862 1030.3,862.4 1026.1,862 1021.2,862.5 1016,862 1011.8,862.5 1007.9,862 1004.2,862.3 1000.6,861.9 997,862.2 993.6,861.8 990.2,862.1 987,861.6 983.6,862 980.5,861.4 977.2,861.7 974.1,861.2 970.9,861.4 967.9,860.9 964.7,861.3 961.8,860.6 958.6,860.9 955.8,860.2 952.6,860.5 949.9,859.8 946.8,860 944.1,859.4 940.9,859.7 938.3,858.9 935.2,859.1 932.6,858.3 929.6,858.4 927,857.7 924,857.8 921.5,857 918.4,857.1 916,856.3 912.9,856.3 910.5,855.5 907.4,855.5 905.1,854.6 902.1,854.4 899.8,853.6 896.7,853.4 894.5,852.4 891.5,852.2 889.4,851.2 886.4,850.8 884.2,849.8 881.3,849.3 879.2,848.2 876.2,847.7 874.3,846.4 871.4,845.6 869.5,844.2 866.8,843.2 865.1,841.6 862.5,840.1 861,838.1 859,835.9 858.3,832.9 856.5,829.5 859.5,827.3 860.1,824.9 865.1,823.4 866.7,821.3 871.5,820.4 873.5,818.6 878.2,817.9 880,816.1 884.9,815.8 886.7,814 891.6,814 893.5,812.1 898.3,812.4 900.4,810.6 905,810.9 907.1,809.1 911.6,809.6 913.8,807.7 918.2,808.4 920.2,806.3 924.7,807.2 927,805.4 931.2,806.2 933.5,804.4 937.6,805.3 939.9,803.4 943.9,804.4 946.5,802.9 950.2,803.7 952.8,802.1 956.4,803 958.7,800.9 962.5,802.3 964.8,800.1 968.5,801.7 970.9,799.8 974.4,801.2 976.9,799.4 980.2,800.8 982.7,799.2 985.9,800.4 988.3,798.5 991.4,800 993.8,797.7 996.8,799.7 999.2,797.6 1002,799.5 1004.4,797.6 1007.1,799.3 1009.3,797.1 1011.8,799.1 1014,797.6 1016.2,799 1018.2,797.2 1020,799 1021.3,796.8 1023,799 1025,797.2 1027,799.1 1029.3,797.4 1031.5,799.2 1034,797.7 1036.3,799.3 1039,797.6 1041.4,799.5 1044.3,797.5 1046.6,799.8 1049.5,798.7 1052,800.1 1055.2,798.3 1057.6,800.5 1060.9,798.7 1063.3,800.9 1066.7,799.1 1069,801.3 1072.6,799.8 1074.9,801.9 1078.6,800.3 1080.9,802.5 1084.6,801.2 1087,803.1 1090.8,801.9 1093.1,803.8 1097,802.8 1099.3,804.6 1103.1,803.9 1105.6,805.5 1109.9,804.3 1111.9,806.4 1116.1,805.5 1118.3,807.4 1122.4,806.9 1124.7,808.5 1129.1,807.9 1131.1,809.7 1135.6,809.2 1137.6,811 1142,810.8 1144.1,812.5 1148.6,812.4 1150.5,814 1155.2,814 1156.9,815.8 1161.7,815.9 1163.3,817.8 1168.1,818.2 1169.5,820 1174.1,820.7 1175.4,822.6 1179.4,823.8 1180.6,825.7 1184.1,827.3 1183.9,829.4" fill="url(#int2)"/>
<g clip-path="url(#pk2)">
<ellipse cx="1024" cy="862" rx="33" ry="6.6" fill="#86a62c"/>
<ellipse cx="1024" cy="862" rx="33" ry="6.6" fill="url(#sh3)"/>
<ellipse cx="1024" cy="860.5" rx="32.6" ry="6.5" fill="#88a52d"/>
<ellipse cx="1024" cy="860.5" rx="32.6" ry="6.5" fill="url(#sh3)"/>
<ellipse cx="1024" cy="859" rx="32.3" ry="6.5" fill="#8aa42d"/>
<ellipse cx="1024" cy="859" rx="32.3" ry="6.5" fill="url(#sh3)"/>
<ellipse cx="1024" cy="857.5" rx="31.9" ry="6.4" fill="#8ba32e"/>
<ellipse cx="1024" cy="857.5" rx="31.9" ry="6.4" fill="url(#sh3)"/>
<ellipse cx="1024" cy="856" rx="31.5" ry="6.3" fill="#8da22f"/>
<ellipse cx="1024" cy="856" rx="31.5" ry="6.3" fill="url(#sh3)"/>
<ellipse cx="1024" cy="854.5" rx="31.2" ry="6.2" fill="#8fa130"/>
<ellipse cx="1024" cy="854.5" rx="31.2" ry="6.2" fill="url(#sh3)"/>
<ellipse cx="1024" cy="853" rx="30.8" ry="6.2" fill="#919f30"/>
<ellipse cx="1024" cy="853" rx="30.8" ry="6.2" fill="url(#sh3)"/>
<ellipse cx="1024" cy="851.5" rx="30.4" ry="6.1" fill="#929d30"/>
<ellipse cx="1024" cy="851.5" rx="30.4" ry="6.1" fill="url(#sh3)"/>
<ellipse cx="1024" cy="850" rx="30" ry="6" fill="#949a30"/>
<ellipse cx="1024" cy="850" rx="30" ry="6" fill="url(#sh3)"/>
<ellipse cx="1024" cy="848.5" rx="29.6" ry="5.9" fill="#969830"/>
<ellipse cx="1024" cy="848.5" rx="29.6" ry="5.9" fill="url(#sh3)"/>
<ellipse cx="1024" cy="847" rx="29.2" ry="5.8" fill="#989530"/>
<ellipse cx="1024" cy="847" rx="29.2" ry="5.8" fill="url(#sh3)"/>
<ellipse cx="1024" cy="845.5" rx="28.7" ry="5.7" fill="#999330"/>
<ellipse cx="1024" cy="845.5" rx="28.7" ry="5.7" fill="url(#sh3)"/>
<ellipse cx="1024" cy="844" rx="28.2" ry="5.6" fill="#9b9130"/>
<ellipse cx="1024" cy="844" rx="28.2" ry="5.6" fill="url(#sh3)"/>
<ellipse cx="1024" cy="842.5" rx="27.7" ry="5.5" fill="#9d8e30"/>
<ellipse cx="1024" cy="842.5" rx="27.7" ry="5.5" fill="url(#sh3)"/>
<ellipse cx="1024" cy="841" rx="27.1" ry="5.4" fill="#9f8c30"/>
<ellipse cx="1024" cy="841" rx="27.1" ry="5.4" fill="url(#sh3)"/>
<ellipse cx="1024" cy="839.5" rx="26.6" ry="5.3" fill="#a08830"/>
<ellipse cx="1024" cy="839.5" rx="26.6" ry="5.3" fill="url(#sh3)"/>
<ellipse cx="1024" cy="838" rx="26.1" ry="5.2" fill="#a08230"/>
<ellipse cx="1024" cy="838" rx="26.1" ry="5.2" fill="url(#sh3)"/>
<ellipse cx="1024" cy="836.5" rx="25.5" ry="5.1" fill="#a07c30"/>
<ellipse cx="1024" cy="836.5" rx="25.5" ry="5.1" fill="url(#sh3)"/>
<ellipse cx="1024" cy="835" rx="25" ry="5" fill="#a07630"/>
<ellipse cx="1024" cy="835" rx="25" ry="5" fill="url(#sh3)"/>
<ellipse cx="1024" cy="833.5" rx="24.5" ry="4.9" fill="#a07030"/>
<ellipse cx="1024" cy="833.5" rx="24.5" ry="4.9" fill="url(#sh3)"/>
<ellipse cx="1024" cy="832" rx="23.9" ry="4.8" fill="#a06a30"/>
<ellipse cx="1024" cy="832" rx="23.9" ry="4.8" fill="url(#sh3)"/>
<ellipse cx="1024" cy="830.5" rx="23.3" ry="4.7" fill="#a06430"/>
<ellipse cx="1024" cy="830.5" rx="23.3" ry="4.7" fill="url(#sh3)"/>
<ellipse cx="1024" cy="829" rx="22.7" ry="4.5" fill="#a05e30"/>
<ellipse cx="1024" cy="829" rx="22.7" ry="4.5" fill="url(#sh3)"/>
<ellipse cx="1024" cy="827.5" rx="22.1" ry="4.4" fill="#a0582f"/>
<ellipse cx="1024" cy="827.5" rx="22.1" ry="4.4" fill="url(#sh3)"/>
<ellipse cx="1024" cy="826" rx="21.6" ry="4.3" fill="#a1532f"/>
<ellipse cx="1024" cy="826" rx="21.6" ry="4.3" fill="url(#sh3)"/>
<ellipse cx="1024" cy="824.5" rx="21" ry="4.2" fill="#a14d2e"/>
<ellipse cx="1024" cy="824.5" rx="21" ry="4.2" fill="url(#sh3)"/>
<ellipse cx="1024" cy="823" rx="20.4" ry="4.1" fill="#a1472d"/>
<ellipse cx="1024" cy="823" rx="20.4" ry="4.1" fill="url(#sh3)"/>
<ellipse cx="1024" cy="821.5" rx="19.8" ry="4" fill="#a2422d"/>
<ellipse cx="1024" cy="821.5" rx="19.8" ry="4" fill="url(#sh3)"/>
<ellipse cx="1024" cy="820" rx="19.2" ry="3.8" fill="#a23c2c"/>
<ellipse cx="1024" cy="820" rx="19.2" ry="3.8" fill="url(#sh3)"/>
<ellipse cx="1024" cy="818.5" rx="18.6" ry="3.7" fill="#a2392c"/>
<ellipse cx="1024" cy="818.5" rx="18.6" ry="3.7" fill="url(#sh3)"/>
<ellipse cx="1024" cy="817" rx="18" ry="3.6" fill="#a1352c"/>
<ellipse cx="1024" cy="817" rx="18" ry="3.6" fill="url(#sh3)"/>
<ellipse cx="1024" cy="815.5" rx="17.3" ry="3.5" fill="#a1322c"/>
<ellipse cx="1024" cy="815.5" rx="17.3" ry="3.5" fill="url(#sh3)"/>
<ellipse cx="1024" cy="814" rx="16.7" ry="3.3" fill="#a02e2c"/>
<ellipse cx="1024" cy="814" rx="16.7" ry="3.3" fill="url(#sh3)"/>
<ellipse cx="1024" cy="812.5" rx="16.1" ry="3.2" fill="#a02b2c"/>
<ellipse cx="1024" cy="812.5" rx="16.1" ry="3.2" fill="url(#sh3)"/>
<ellipse cx="1024" cy="811" rx="15.5" ry="3.1" fill="#9f282c"/>
<ellipse cx="1024" cy="811" rx="15.5" ry="3.1" fill="url(#sh3)"/>
<ellipse cx="1024" cy="809.5" rx="14.8" ry="3" fill="#9e252b"/>
<ellipse cx="1024" cy="809.5" rx="14.8" ry="3" fill="url(#sh3)"/>
<ellipse cx="1024" cy="808" rx="14.2" ry="2.8" fill="#9c222a"/>
<ellipse cx="1024" cy="808" rx="14.2" ry="2.8" fill="url(#sh3)"/>
<ellipse cx="1024" cy="806.5" rx="13.2" ry="2.6" fill="#9b1f2a"/>
<ellipse cx="1024" cy="806.5" rx="13.2" ry="2.6" fill="url(#sh3)"/>
<ellipse cx="1024" cy="805" rx="12.2" ry="2.4" fill="#9a1c29"/>
<ellipse cx="1024" cy="805" rx="12.2" ry="2.4" fill="url(#sh3)"/>
<ellipse cx="1024" cy="803.5" rx="11.1" ry="2.2" fill="#981928"/>
<ellipse cx="1024" cy="803.5" rx="11.1" ry="2.2" fill="url(#sh3)"/>
<ellipse cx="1024" cy="802" rx="9.8" ry="2" fill="#951727"/>
<ellipse cx="1024" cy="802" rx="9.8" ry="2" fill="url(#sh3)"/>
<ellipse cx="1024" cy="800.5" rx="8.2" ry="1.7" fill="#901525"/>
<ellipse cx="1024" cy="800.5" rx="8.2" ry="1.7" fill="url(#sh3)"/>
<ellipse cx="1024" cy="799" rx="6" ry="1.2" fill="#8c1323"/>
<ellipse cx="1024" cy="799" rx="6" ry="1.2" fill="url(#sh3)"/>
<ellipse cx="1024" cy="797.5" rx="2.5" ry="0.6" fill="#881121"/>
<ellipse cx="1024" cy="797.5" rx="2.5" ry="0.6" fill="url(#sh3)"/>
</g>
<ellipse cx="1707" cy="980.8" rx="13" ry="1.3" fill="#101878"/>
<ellipse cx="1707" cy="980.8" rx="13" ry="1.3" fill="url(#sh2)"/>
<ellipse cx="1707" cy="980.7" rx="14" ry="1.4" fill="#101878"/>
<ellipse cx="1707" cy="980.7" rx="14" ry="1.4" fill="url(#sh2)"/>
<ellipse cx="1707" cy="980.5" rx="16" ry="1.6" fill="#101878"/>
<ellipse cx="1707" cy="980.5" rx="16" ry="1.6" fill="url(#sh2)"/>
<ellipse cx="1707" cy="980.3" rx="17.5" ry="1.7" fill="#101878"/>
<ellipse cx="1707" cy="980.3" rx="17.5" ry="1.7" fill="url(#sh2)"/>
<ellipse cx="1707" cy="980.1" rx="19" ry="1.9" fill="#101878"/>
<ellipse cx="1707" cy="980.1" rx="19" ry="1.9" fill="url(#sh2)"/>
<ellipse cx="1707" cy="979.9" rx="21" ry="2" fill="#101878"/>
<ellipse cx="1707" cy="979.9" rx="21" ry="2" fill="url(#sh2)"/>
<ellipse cx="1707" cy="979.7" rx="23" ry="2.2" fill="#101878"/>
<ellipse cx="1707" cy="979.7" rx="23" ry="2.2" fill="url(#sh2)"/>
<ellipse cx="1707" cy="979.4" rx="25" ry="2.4" fill="#101878"/>
<ellipse cx="1707" cy="979.4" rx="25" ry="2.4" fill="url(#sh2)"/>
<ellipse cx="1707" cy="979.2" rx="26.9" ry="2.6" fill="#101878"/>
<ellipse cx="1707" cy="979.2" rx="26.9" ry="2.6" fill="url(#sh2)"/>
<ellipse cx="1707.1" cy="978.9" rx="28.9" ry="2.8" fill="#101978"/>
<ellipse cx="1707.1" cy="978.9" rx="28.9" ry="2.8" fill="url(#sh2)"/>
<ellipse cx="1707.1" cy="978.5" rx="30.8" ry="3" fill="#101979"/>
<ellipse cx="1707.1" cy="978.5" rx="30.8" ry="3" fill="url(#sh2)"/>
<ellipse cx="1707.1" cy="978.2" rx="32.7" ry="3.2" fill="#101979"/>
<ellipse cx="1707.1" cy="978.2" rx="32.7" ry="3.2" fill="url(#sh2)"/>
<ellipse cx="1707.2" cy="977.9" rx="34.6" ry="3.4" fill="#101a7a"/>
<ellipse cx="1707.2" cy="977.9" rx="34.6" ry="3.4" fill="url(#sh2)"/>
<ellipse cx="1707.2" cy="977.5" rx="36.5" ry="3.5" fill="#101b7a"/>
<ellipse cx="1707.2" cy="977.5" rx="36.5" ry="3.5" fill="url(#sh2)"/>
<ellipse cx="1707.3" cy="977.1" rx="38.4" ry="3.7" fill="#0f1b7b"/>
<ellipse cx="1707.3" cy="977.1" rx="38.4" ry="3.7" fill="url(#sh2)"/>
<ellipse cx="1707.4" cy="976.7" rx="40.2" ry="3.9" fill="#0f1c7b"/>
<ellipse cx="1707.4" cy="976.7" rx="40.2" ry="3.9" fill="url(#sh2)"/>
<ellipse cx="1707.4" cy="976.3" rx="42" ry="4.1" fill="#0f1d7c"/>
<ellipse cx="1707.4" cy="976.3" rx="42" ry="4.1" fill="url(#sh2)"/>
<ellipse cx="1707.5" cy="975.8" rx="43.8" ry="4.3" fill="#0f1e7d"/>
<ellipse cx="1707.5" cy="975.8" rx="43.8" ry="4.3" fill="url(#sh2)"/>
<ellipse cx="1707.6" cy="975.3" rx="45.5" ry="4.5" fill="#0f1f7e"/>
<ellipse cx="1707.6" cy="975.3" rx="45.5" ry="4.5" fill="url(#sh2)"/>
<ellipse cx="1707.6" cy="974.8" rx="47.2" ry="4.7" fill="#0f207f"/>
<ellipse cx="1707.6" cy="974.8" rx="47.2" ry="4.7" fill="url(#sh2)"/>
<ellipse cx="1707.7" cy="974.3" rx="48.9" ry="4.9" fill="#0e2180"/>
<ellipse cx="1707.7" cy="974.3" rx="48.9" ry="4.9" fill="url(#sh2)"/>
<ellipse cx="1707.8" cy="973.8" rx="50.5" ry="5" fill="#0e2281"/>
<ellipse cx="1707.8" cy="973.8" rx="50.5" ry="5" fill="url(#sh2)"/>
<ellipse cx="1707.8" cy="973.2" rx="52.1" ry="5.2" fill="#0e2482"/>
<ellipse cx="1707.8" cy="973.2" rx="52.1" ry="5.2" fill="url(#sh2)"/>
<ellipse cx="1707.9" cy="972.6" rx="53.6" ry="5.4" fill="#0e2583"/>
<ellipse cx="1707.9" cy="972.6" rx="53.6" ry="5.4" fill="url(#sh2)"/>
<ellipse cx="1707.9" cy="972" rx="55.1" ry="5.6" fill="#0d2784"/>
<ellipse cx="1707.9" cy="972" rx="55.1" ry="5.6" fill="url(#sh2)"/>
<ellipse cx="1707.9" cy="971.4" rx="56.5" ry="5.8" fill="#0d2885"/>
<ellipse cx="1707.9" cy="971.4" rx="56.5" ry="5.8" fill="url(#sh2)"/>
<ellipse cx="1708" cy="970.8" rx="57.9" ry="5.9" fill="#0d2a87"/>
<ellipse cx="1708" cy="970.8" rx="57.9" ry="5.9" fill="url(#sh2)"/>
<ellipse cx="1708" cy="970.1" rx="59.1" ry="6.1" fill="#0c2c88"/>
<ellipse cx="1708" cy="970.1" rx="59.1" ry="6.1" fill="url(#sh2)"/>
<ellipse cx="1708" cy="969.4" rx="60.4" ry="6.2" fill="#0c2d89"/>
<ellipse cx="1708" cy="969.4" rx="60.4" ry="6.2" fill="url(#sh2)"/>
<ellipse cx="1708" cy="968.8" rx="61.5" ry="6.4" fill="#0c2f8a"/>
<ellipse cx="1708" cy="968.8" rx="61.5" ry="6.4" fill="url(#sh2)"/>
<ellipse cx="1708" cy="968.1" rx="62.6" ry="6.6" fill="#0c3189"/>
<ellipse cx="1708" cy="968.1" rx="62.6" ry="6.6" fill="url(#sh2)"/>
<ellipse cx="1708" cy="967.4" rx="63.7" ry="6.7" fill="#0c3388"/>
<ellipse cx="1708" cy="967.4" rx="63.7" ry="6.7" fill="url(#sh2)"/>
<ellipse cx="1708" cy="966.7" rx="64.8" ry="6.8" fill="#0c3588"/>
<ellipse cx="1708" cy="966.7" rx="64.8" ry="6.8" fill="url(#sh2)"/>
<ellipse cx="1708" cy="965.9" rx="65.9" ry="7" fill="#0b3787"/>
<ellipse cx="1708" cy="965.9" rx="65.9" ry="7" fill="url(#sh2)"/>
<ellipse cx="1708" cy="965.2" rx="66.9" ry="7.1" fill="#0b3886"/>
<ellipse cx="1708" cy="965.2" rx="66.9" ry="7.1" fill="url(#sh2)"/>
<ellipse cx="1708" cy="964.5" rx="68" ry="7.2" fill="#0b3a86"/>
<ellipse cx="1708" cy="964.5" rx="68" ry="7.2" fill="url(#sh2)"/>
<ellipse cx="1708" cy="963.8" rx="69" ry="7.4" fill="#0b3c85"/>
<ellipse cx="1708" cy="963.8" rx="69" ry="7.4" fill="url(#sh2)"/>
<ellipse cx="1708" cy="962.2" rx="71" ry="7.6" fill="#0b4183"/>
<ellipse cx="1708" cy="962.2" rx="71" ry="7.6" fill="url(#sh2)"/>
<ellipse cx="1708" cy="960.6" rx="72.9" ry="7.9" fill="#0a4582"/>
<ellipse cx="1708" cy="960.6" rx="72.9" ry="7.9" fill="url(#sh2)"/>
<ellipse cx="1708" cy="958.9" rx="74.8" ry="8.1" fill="#0a4a80"/>
<ellipse cx="1708" cy="958.9" rx="74.8" ry="8.1" fill="url(#sh2)"/>
<ellipse cx="1708" cy="957.9" rx="75.7" ry="8.2" fill="#0a4c7e"/>
<ellipse cx="1708" cy="957.9" rx="75.7" ry="8.2" fill="url(#sh2)"/>
<ellipse cx="1708" cy="957" rx="76.6" ry="8.4" fill="#0a4e7b"/>
<ellipse cx="1708" cy="957" rx="76.6" ry="8.4" fill="url(#sh2)"/>
<ellipse cx="1708" cy="956" rx="77.5" ry="8.5" fill="#0a5179"/>
<ellipse cx="1708" cy="956" rx="77.5" ry="8.5" fill="url(#sh2)"/>
<ellipse cx="1708" cy="955" rx="78.4" ry="8.6" fill="#0a5376"/>
<ellipse cx="1708" cy="955" rx="78.4" ry="8.6" fill="url(#sh2)"/>
<ellipse cx="1708" cy="953.9" rx="79.3" ry="8.8" fill="#0a5673"/>
<ellipse cx="1708" cy="953.9" rx="79.3" ry="8.8" fill="url(#sh2)"/>
<ellipse cx="1708" cy="952.8" rx="80.2" ry="8.9" fill="#0a5970"/>
<ellipse cx="1708" cy="952.8" rx="80.2" ry="8.9" fill="url(#sh2)"/>
<ellipse cx="1708" cy="951.5" rx="81.1" ry="9.1" fill="#0a5c6d"/>
<ellipse cx="1708" cy="951.5" rx="81.1" ry="9.1" fill="url(#sh2)"/>
<ellipse cx="1708" cy="950.2" rx="82" ry="9.2" fill="#0a5f6a"/>
<ellipse cx="1708" cy="950.2" rx="82" ry="9.2" fill="url(#sh2)"/>
<ellipse cx="1708" cy="948.9" rx="82.9" ry="9.4" fill="#0a6266"/>
<ellipse cx="1708" cy="948.9" rx="82.9" ry="9.4" fill="url(#sh2)"/>
<ellipse cx="1708" cy="947.5" rx="83.8" ry="9.6" fill="#0a6562"/>
<ellipse cx="1708" cy="947.5" rx="83.8" ry="9.6" fill="url(#sh2)"/>
<ellipse cx="1708" cy="946" rx="84.8" ry="9.8" fill="#0b675e"/>
<ellipse cx="1708" cy="946" rx="84.8" ry="9.8" fill="url(#sh2)"/>
<ellipse cx="1708" cy="944.5" rx="85.7" ry="9.9" fill="#0b6959"/>
<ellipse cx="1708" cy="944.5" rx="85.7" ry="9.9" fill="url(#sh2)"/>
<ellipse cx="1708" cy="943.2" rx="86.4" ry="10.1" fill="#0b6b55"/>
<ellipse cx="1708" cy="943.2" rx="86.4" ry="10.1" fill="url(#sh2)"/>
<ellipse cx="1708" cy="942" rx="87.1" ry="10.2" fill="#0c6d51"/>
<ellipse cx="1708" cy="942" rx="87.1" ry="10.2" fill="url(#sh2)"/>
<ellipse cx="1707.9" cy="940.7" rx="87.8" ry="10.3" fill="#0c6e4d"/>
<ellipse cx="1707.9" cy="940.7" rx="87.8" ry="10.3" fill="url(#sh2)"/>
<ellipse cx="1707.9" cy="939.1" rx="88.7" ry="10.4" fill="#0d7148"/>
<ellipse cx="1707.9" cy="939.1" rx="88.7" ry="10.4" fill="url(#sh2)"/>
<ellipse cx="1707.9" cy="937.6" rx="89.5" ry="10.5" fill="#0d7343"/>
<ellipse cx="1707.9" cy="937.6" rx="89.5" ry="10.5" fill="url(#sh2)"/>
<ellipse cx="1707.8" cy="936.1" rx="90.3" ry="10.6" fill="#0d753e"/>
<ellipse cx="1707.8" cy="936.1" rx="90.3" ry="10.6" fill="url(#sh2)"/>
<ellipse cx="1707.8" cy="934.7" rx="91" ry="10.7" fill="#0e7739"/>
<ellipse cx="1707.8" cy="934.7" rx="91" ry="10.7" fill="url(#sh2)"/>
<ellipse cx="1707.7" cy="933.3" rx="91.6" ry="10.7" fill="#0f7836"/>
<ellipse cx="1707.7" cy="933.3" rx="91.6" ry="10.7" fill="url(#sh2)"/>
<ellipse cx="1707.7" cy="932" rx="92.3" ry="10.8" fill="#107932"/>
<ellipse cx="1707.7" cy="932" rx="92.3" ry="10.8" fill="url(#sh2)"/>
<ellipse cx="1707.6" cy="930.6" rx="93" ry="10.9" fill="#117a2f"/>
<ellipse cx="1707.6" cy="930.6" rx="93" ry="10.9" fill="url(#sh2)"/>
<ellipse cx="1707.6" cy="929.1" rx="93.8" ry="10.9" fill="#127b2b"/>
<ellipse cx="1707.6" cy="929.1" rx="93.8" ry="10.9" fill="url(#sh2)"/>
<ellipse cx="1707.5" cy="927.5" rx="94.5" ry="11" fill="#147b27"/>
<ellipse cx="1707.5" cy="927.5" rx="94.5" ry="11" fill="url(#sh2)"/>
<ellipse cx="1707.4" cy="925.9" rx="95.2" ry="11.1" fill="#157c23"/>
<ellipse cx="1707.4" cy="925.9" rx="95.2" ry="11.1" fill="url(#sh2)"/>
<ellipse cx="1707.4" cy="924.4" rx="96" ry="11.1" fill="#177d20"/>
<ellipse cx="1707.4" cy="924.4" rx="96" ry="11.1" fill="url(#sh2)"/>
<ellipse cx="1707.3" cy="922.8" rx="96.7" ry="11.2" fill="#187e1c"/>
<ellipse cx="1707.3" cy="922.8" rx="96.7" ry="11.2" fill="url(#sh2)"/>
<ellipse cx="1707.2" cy="921.2" rx="97.5" ry="11.3" fill="#197e18"/>
<ellipse cx="1707.2" cy="921.2" rx="97.5" ry="11.3" fill="url(#sh2)"/>
<ellipse cx="1707.2" cy="919.7" rx="98.2" ry="11.4" fill="#1b7f14"/>
<ellipse cx="1707.2" cy="919.7" rx="98.2" ry="11.4" fill="url(#sh2)"/>
<ellipse cx="1707.1" cy="918.1" rx="98.9" ry="11.5" fill="#1c8010"/>
<ellipse cx="1707.1" cy="918.1" rx="98.9" ry="11.5" fill="url(#sh2)"/>
<ellipse cx="1707.1" cy="916.6" rx="99.6" ry="11.6" fill="#1e800f"/>
<ellipse cx="1707.1" cy="916.6" rx="99.6" ry="11.6" fill="url(#sh2)"/>
<ellipse cx="1707" cy="915" rx="100.3" ry="11.7" fill="#21810e"/>
<ellipse cx="1707" cy="915" rx="100.3" ry="11.7" fill="url(#sh2)"/>
<ellipse cx="1706.9" cy="913.4" rx="101" ry="11.8" fill="#23810d"/>
<ellipse cx="1706.9" cy="913.4" rx="101" ry="11.8" fill="url(#sh2)"/>
<ellipse cx="1706.9" cy="911.9" rx="101.7" ry="11.9" fill="#26810c"/>
<ellipse cx="1706.9" cy="911.9" rx="101.7" ry="11.9" fill="url(#sh2)"/>
<ellipse cx="1706.8" cy="910.3" rx="102.4" ry="12" fill="#28820a"/>
<ellipse cx="1706.8" cy="910.3" rx="102.4" ry="12" fill="url(#sh2)"/>
<ellipse cx="1706.8" cy="908.8" rx="103.1" ry="12.2" fill="#2a8209"/>
<ellipse cx="1706.8" cy="908.8" rx="103.1" ry="12.2" fill="url(#sh2)"/>
<ellipse cx="1706.7" cy="907.2" rx="103.8" ry="12.3" fill="#2d8208"/>
<ellipse cx="1706.7" cy="907.2" rx="103.8" ry="12.3" fill="url(#sh2)"/>
<ellipse cx="1706.6" cy="905.6" rx="104.4" ry="12.4" fill="#2f8307"/>
<ellipse cx="1706.6" cy="905.6" rx="104.4" ry="12.4" fill="url(#sh2)"/>
<ellipse cx="1706.6" cy="904.1" rx="105.1" ry="12.6" fill="#328306"/>
<ellipse cx="1706.6" cy="904.1" rx="105.1" ry="12.6" fill="url(#sh2)"/>
<ellipse cx="1706.5" cy="902.5" rx="105.8" ry="12.8" fill="#348305"/>
<ellipse cx="1706.5" cy="902.5" rx="105.8" ry="12.8" fill="url(#sh2)"/>
<ellipse cx="1706.4" cy="900.9" rx="106.4" ry="12.9" fill="#368404"/>
<ellipse cx="1706.4" cy="900.9" rx="106.4" ry="12.9" fill="url(#sh2)"/>
<ellipse cx="1706.4" cy="899.4" rx="107.1" ry="13.1" fill="#398403"/>
<ellipse cx="1706.4" cy="899.4" rx="107.1" ry="13.1" fill="url(#sh2)"/>
<ellipse cx="1706.3" cy="898" rx="107.7" ry="13.2" fill="#3b8402"/>
<ellipse cx="1706.3" cy="898" rx="107.7" ry="13.2" fill="url(#sh2)"/>
<ellipse cx="1706.3" cy="896.6" rx="108.2" ry="13.4" fill="#3e8402"/>
<ellipse cx="1706.3" cy="896.6" rx="108.2" ry="13.4" fill="url(#sh2)"/>
<ellipse cx="1706.2" cy="895.2" rx="108.8" ry="13.5" fill="#408402"/>
<ellipse cx="1706.2" cy="895.2" rx="108.8" ry="13.5" fill="url(#sh2)"/>
<ellipse cx="1706.2" cy="893.8" rx="109.4" ry="13.7" fill="#438402"/>
<ellipse cx="1706.2" cy="893.8" rx="109.4" ry="13.7" fill="url(#sh2)"/>
<ellipse cx="1706.1" cy="892.2" rx="110.1" ry="13.9" fill="#458401"/>
<ellipse cx="1706.1" cy="892.2" rx="110.1" ry="13.9" fill="url(#sh2)"/>
<ellipse cx="1706" cy="890.6" rx="110.9" ry="14.1" fill="#488401"/>
<ellipse cx="1706" cy="890.6" rx="110.9" ry="14.1" fill="url(#sh2)"/>
<ellipse cx="1706" cy="888.9" rx="111.6" ry="14.3" fill="#4b8401"/>
<ellipse cx="1706" cy="888.9" rx="111.6" ry="14.3" fill="url(#sh2)"/>
<ellipse cx="1705.9" cy="887.5" rx="112.2" ry="14.5" fill="#4e8401"/>
<ellipse cx="1705.9" cy="887.5" rx="112.2" ry="14.5" fill="url(#sh2)"/>
<ellipse cx="1705.9" cy="886.1" rx="112.8" ry="14.7" fill="#508401"/>
<ellipse cx="1705.9" cy="886.1" rx="112.8" ry="14.7" fill="url(#sh2)"/>
<ellipse cx="1705.8" cy="884.8" rx="113.4" ry="14.9" fill="#528401"/>
<ellipse cx="1705.8" cy="884.8" rx="113.4" ry="14.9" fill="url(#sh2)"/>
<ellipse cx="1705.8" cy="883" rx="114.2" ry="15.2" fill="#558400"/>
<ellipse cx="1705.8" cy="883" rx="114.2" ry="15.2" fill="url(#sh2)"/>
<ellipse cx="1705.7" cy="881.2" rx="115.1" ry="15.6" fill="#588400"/>
<ellipse cx="1705.7" cy="881.2" rx="115.1" ry="15.6" fill="url(#sh2)"/>
<ellipse cx="1705.6" cy="879.5" rx="115.8" ry="15.9" fill="#5b8400"/>
<ellipse cx="1705.6" cy="879.5" rx="115.8" ry="15.9" fill="url(#sh2)"/>
<ellipse cx="1705.6" cy="877.8" rx="116.6" ry="16.2" fill="#5e8400"/>
<ellipse cx="1705.6" cy="877.8" rx="116.6" ry="16.2" fill="url(#sh2)"/>
<ellipse cx="1705.5" cy="876" rx="117.2" ry="16.6" fill="#608300"/>
<ellipse cx="1705.5" cy="876" rx="117.2" ry="16.6" fill="url(#sh2)"/>
<ellipse cx="1705.4" cy="874.2" rx="117.9" ry="16.9" fill="#628200"/>
<ellipse cx="1705.4" cy="874.2" rx="117.9" ry="16.9" fill="url(#sh2)"/>
<ellipse cx="1705.4" cy="872.5" rx="118.6" ry="17.3" fill="#648100"/>
<ellipse cx="1705.4" cy="872.5" rx="118.6" ry="17.3" fill="url(#sh2)"/>
<ellipse cx="1705.3" cy="870.8" rx="119.2" ry="17.6" fill="#668000"/>
<ellipse cx="1705.3" cy="870.8" rx="119.2" ry="17.6" fill="url(#sh2)"/>
<ellipse cx="1705.2" cy="869" rx="119.8" ry="18" fill="#687f00"/>
<ellipse cx="1705.2" cy="869" rx="119.8" ry="18" fill="url(#sh2)"/>
<ellipse cx="1705.2" cy="867.2" rx="120.3" ry="18.4" fill="#6a7e00"/>
<ellipse cx="1705.2" cy="867.2" rx="120.3" ry="18.4" fill="url(#sh2)"/>
<ellipse cx="1705.1" cy="865.9" rx="120.8" ry="18.6" fill="#6c7e00"/>
<ellipse cx="1705.1" cy="865.9" rx="120.8" ry="18.6" fill="url(#sh2)"/>
<ellipse cx="1705.1" cy="864.5" rx="121.2" ry="18.8" fill="#6e7d00"/>
<ellipse cx="1705.1" cy="864.5" rx="121.2" ry="18.8" fill="url(#sh2)"/>
<ellipse cx="1705" cy="863.1" rx="121.7" ry="19" fill="#707c00"/>
<ellipse cx="1705" cy="863.1" rx="121.7" ry="19" fill="url(#sh2)"/>
<ellipse cx="1704.9" cy="861.4" rx="122.2" ry="19.2" fill="#727b00"/>
<ellipse cx="1704.9" cy="861.4" rx="122.2" ry="19.2" fill="url(#sh2)"/>
<ellipse cx="1704.8" cy="859.8" rx="122.7" ry="19.3" fill="#747a00"/>
<ellipse cx="1704.8" cy="859.8" rx="122.7" ry="19.3" fill="url(#sh2)"/>
<ellipse cx="1704.8" cy="858.2" rx="123.2" ry="19.5" fill="#767900"/>
<ellipse cx="1704.8" cy="858.2" rx="123.2" ry="19.5" fill="url(#sh2)"/>
<ellipse cx="1704.7" cy="856.8" rx="123.7" ry="19.6" fill="#787800"/>
<ellipse cx="1704.7" cy="856.8" rx="123.7" ry="19.6" fill="url(#sh2)"/>
<ellipse cx="1704.6" cy="855.4" rx="124.1" ry="19.7" fill="#7a7600"/>
<ellipse cx="1704.6" cy="855.4" rx="124.1" ry="19.7" fill="url(#sh2)"/>
<ellipse cx="1704.5" cy="854" rx="124.6" ry="19.8" fill="#7b7401"/>
<ellipse cx="1704.5" cy="854" rx="124.6" ry="19.8" fill="url(#sh2)"/>
<ellipse cx="1704.4" cy="852.6" rx="125" ry="19.9" fill="#7d7201"/>
<ellipse cx="1704.4" cy="852.6" rx="125" ry="19.9" fill="url(#sh2)"/>
<ellipse cx="1704.3" cy="851.1" rx="125.5" ry="19.9" fill="#7f7001"/>
<ellipse cx="1704.3" cy="851.1" rx="125.5" ry="19.9" fill="url(#sh2)"/>
<ellipse cx="1704.2" cy="849.5" rx="126" ry="20" fill="#816d02"/>
<ellipse cx="1704.2" cy="849.5" rx="126" ry="20" fill="url(#sh2)"/>
<ellipse cx="1704.2" cy="847.9" rx="126.5" ry="20.1" fill="#836b02"/>
<ellipse cx="1704.2" cy="847.9" rx="126.5" ry="20.1" fill="url(#sh2)"/>
<ellipse cx="1704.1" cy="846.4" rx="127" ry="20.1" fill="#856602"/>
<ellipse cx="1704.1" cy="846.4" rx="127" ry="20.1" fill="url(#sh2)"/>
<ellipse cx="1704" cy="845" rx="127.5" ry="20.2" fill="#866002"/>
<ellipse cx="1704" cy="845" rx="127.5" ry="20.2" fill="url(#sh2)"/>
<ellipse cx="1703.9" cy="843.6" rx="128" ry="20.2" fill="#865b02"/>
<ellipse cx="1703.9" cy="843.6" rx="128" ry="20.2" fill="url(#sh2)"/>
<ellipse cx="1703.8" cy="842.2" rx="128.4" ry="20.3" fill="#875502"/>
<ellipse cx="1703.8" cy="842.2" rx="128.4" ry="20.3" fill="url(#sh2)"/>
<ellipse cx="1703.7" cy="840.8" rx="128.9" ry="20.3" fill="#884f02"/>
<ellipse cx="1703.7" cy="840.8" rx="128.9" ry="20.3" fill="url(#sh2)"/>
<ellipse cx="1703.6" cy="839.2" rx="129.5" ry="20.4" fill="#894802"/>
<ellipse cx="1703.6" cy="839.2" rx="129.5" ry="20.4" fill="url(#sh2)"/>
<ellipse cx="1703.5" cy="837.6" rx="130.1" ry="20.5" fill="#8a4102"/>
<ellipse cx="1703.5" cy="837.6" rx="130.1" ry="20.5" fill="url(#sh2)"/>
<ellipse cx="1703.4" cy="835.9" rx="130.7" ry="20.5" fill="#893902"/>
<ellipse cx="1703.4" cy="835.9" rx="130.7" ry="20.5" fill="url(#sh2)"/>
<ellipse cx="1703.3" cy="834.5" rx="131.3" ry="20.6" fill="#883303"/>
<ellipse cx="1703.3" cy="834.5" rx="131.3" ry="20.6" fill="url(#sh2)"/>
<ellipse cx="1703.2" cy="833.1" rx="131.8" ry="20.6" fill="#882c03"/>
<ellipse cx="1703.2" cy="833.1" rx="131.8" ry="20.6" fill="url(#sh2)"/>
<ellipse cx="1703.1" cy="831.8" rx="132.4" ry="20.7" fill="#872603"/>
<ellipse cx="1703.1" cy="831.8" rx="132.4" ry="20.7" fill="url(#sh2)"/>
<ellipse cx="1703" cy="830.6" rx="132.9" ry="20.7" fill="#872004"/>
<ellipse cx="1703" cy="830.6" rx="132.9" ry="20.7" fill="url(#sh2)"/>
<ellipse cx="1703" cy="829.4" rx="133.5" ry="20.8" fill="#861a04"/>
<ellipse cx="1703" cy="829.4" rx="133.5" ry="20.8" fill="url(#sh2)"/>
<ellipse cx="1702.9" cy="828.2" rx="134" ry="20.8" fill="#851704"/>
<ellipse cx="1702.9" cy="828.2" rx="134" ry="20.8" fill="url(#sh2)"/>
<ellipse cx="1702.8" cy="826.9" rx="135" ry="20.7" fill="#841504"/>
<ellipse cx="1702.8" cy="826.9" rx="135" ry="20.7" fill="url(#sh2)"/>
<ellipse cx="1702.7" cy="825.6" rx="135.9" ry="20.7" fill="#831305"/>
<ellipse cx="1702.7" cy="825.6" rx="135.9" ry="20.7" fill="url(#sh2)"/>
<ellipse cx="1702.6" cy="824.6" rx="137.1" ry="20.4" fill="#821105"/>
<ellipse cx="1702.6" cy="824.6" rx="137.1" ry="20.4" fill="url(#sh2)"/>
<ellipse cx="1702.5" cy="823.7" rx="138.2" ry="20.2" fill="#810f05"/>
<ellipse cx="1702.5" cy="823.7" rx="138.2" ry="20.2" fill="url(#sh2)"/>
<ellipse cx="1702.4" cy="823.2" rx="139.5" ry="19.9" fill="#800d06"/>
<ellipse cx="1702.4" cy="823.2" rx="139.5" ry="19.9" fill="url(#sh2)"/>
<ellipse cx="1702.3" cy="822.6" rx="140.8" ry="19.5" fill="#7f0c06"/>
<ellipse cx="1702.3" cy="822.6" rx="140.8" ry="19.5" fill="url(#sh2)"/>
<ellipse cx="1702.2" cy="822.5" rx="142.2" ry="19" fill="#7f0b06"/>
<ellipse cx="1702.2" cy="822.5" rx="142.2" ry="19" fill="url(#sh2)"/>
<ellipse cx="1702.2" cy="822.4" rx="143.6" ry="18.5" fill="#7e0a06"/>
<ellipse cx="1702.2" cy="822.4" rx="143.6" ry="18.5" fill="url(#sh2)"/>
<ellipse cx="1702.1" cy="822.2" rx="145" ry="18" fill="#7e0a06"/>
<ellipse cx="1702.1" cy="822.2" rx="145" ry="18" fill="url(#sh2)"/>
<ellipse cx="1702.1" cy="822.1" rx="146.4" ry="17.4" fill="#7e0a06"/>
<ellipse cx="1702.1" cy="822.1" rx="146.4" ry="17.4" fill="url(#sh2)"/>
<ellipse cx="1702" cy="821.9" rx="147.8" ry="16.9" fill="#7d0a06"/>
<ellipse cx="1702" cy="821.9" rx="147.8" ry="16.9" fill="url(#sh2)"/>
<ellipse cx="1701.9" cy="821.8" rx="149.2" ry="16.3" fill="#7d0a06"/>
<ellipse cx="1701.9" cy="821.8" rx="149.2" ry="16.3" fill="url(#sh2)"/>
<ellipse cx="1701.9" cy="821.6" rx="150.4" ry="15.7" fill="#7d0a06"/>
<ellipse cx="1701.9" cy="821.6" rx="150.4" ry="15.7" fill="url(#sh2)"/>
<ellipse cx="1701.8" cy="821.4" rx="151.8" ry="15.1" fill="#7d0907"/>
<ellipse cx="1701.8" cy="821.4" rx="151.8" ry="15.1" fill="url(#sh2)"/>
<ellipse cx="1701.8" cy="821.2" rx="153" ry="14.5" fill="#7d0907"/>
<ellipse cx="1701.8" cy="821.2" rx="153" ry="14.5" fill="url(#sh2)"/>
<ellipse cx="1701.7" cy="821.1" rx="154.2" ry="13.9" fill="#7c0907"/>
<ellipse cx="1701.7" cy="821.1" rx="154.2" ry="13.9" fill="url(#sh2)"/>
<ellipse cx="1701.6" cy="820.9" rx="155.4" ry="13.3" fill="#7c0907"/>
<ellipse cx="1701.6" cy="820.9" rx="155.4" ry="13.3" fill="url(#sh2)"/>
<ellipse cx="1701.6" cy="820.7" rx="156.6" ry="12.7" fill="#7c0907"/>
<ellipse cx="1701.6" cy="820.7" rx="156.6" ry="12.7" fill="url(#sh2)"/>
<ellipse cx="1701.5" cy="820.4" rx="157.7" ry="12.1" fill="#7c0907"/>
<ellipse cx="1701.5" cy="820.4" rx="157.7" ry="12.1" fill="url(#sh2)"/>
<ellipse cx="1701.4" cy="820.2" rx="158.8" ry="11.6" fill="#7c0907"/>
<ellipse cx="1701.4" cy="820.2" rx="158.8" ry="11.6" fill="url(#sh2)"/>
<ellipse cx="1701.4" cy="820" rx="159.8" ry="11" fill="#7b0907"/>
<ellipse cx="1701.4" cy="820" rx="159.8" ry="11" fill="url(#sh2)"/>
<ellipse cx="1701.3" cy="819.8" rx="160.8" ry="10.5" fill="#7b0907"/>
<ellipse cx="1701.3" cy="819.8" rx="160.8" ry="10.5" fill="url(#sh2)"/>
<ellipse cx="1701.2" cy="819.2" rx="162.7" ry="9.5" fill="#7b0808"/>
<ellipse cx="1701.2" cy="819.2" rx="162.7" ry="9.5" fill="url(#sh2)"/>
<ellipse cx="1701.1" cy="818.6" rx="164.1" ry="9.1" fill="#7a0808"/>
<ellipse cx="1701.1" cy="818.6" rx="164.1" ry="9.1" fill="url(#sh2)"/>
<ellipse cx="1701" cy="817.8" rx="165" ry="9.2" fill="#7a0808"/>
<ellipse cx="1701" cy="817.8" rx="165" ry="9.2" fill="url(#sh2)"/>
<ellipse cx="1701" cy="816.8" rx="165.5" ry="9.9" fill="#7a0808"/>
<ellipse cx="1701" cy="816.8" rx="165.5" ry="9.9" fill="url(#sh2)"/>
<ellipse cx="1701" cy="815.7" rx="165.5" ry="11.1" fill="#7a0808"/>
<ellipse cx="1701" cy="815.7" rx="165.5" ry="11.1" fill="url(#sh2)"/>
<ellipse cx="1701" cy="814.7" rx="165.4" ry="12.3" fill="#7a0808"/>
<ellipse cx="1701" cy="814.7" rx="165.4" ry="12.3" fill="url(#sh2)"/>
<ellipse cx="1701" cy="813.7" rx="165.3" ry="13.4" fill="#7a0808"/>
<ellipse cx="1701" cy="813.7" rx="165.3" ry="13.4" fill="url(#sh2)"/>
<ellipse cx="1701" cy="812.9" rx="165.1" ry="14.5" fill="#7a0808"/>
<ellipse cx="1701" cy="812.9" rx="165.1" ry="14.5" fill="url(#sh2)"/>
<ellipse cx="1701" cy="812.1" rx="164.9" ry="15.5" fill="#7a0808"/>
<ellipse cx="1701" cy="812.1" rx="164.9" ry="15.5" fill="url(#sh2)"/>
<ellipse cx="1701" cy="811.2" rx="164.5" ry="16.6" fill="#7a0808"/>
<ellipse cx="1701" cy="811.2" rx="164.5" ry="16.6" fill="url(#sh2)"/>
<ellipse cx="1701" cy="810.2" rx="163.9" ry="17.7" fill="#7b0808"/>
<ellipse cx="1701" cy="810.2" rx="163.9" ry="17.7" fill="url(#sh2)"/>
<ellipse cx="1701" cy="809.1" rx="163.2" ry="18.9" fill="#7b0808"/>
<ellipse cx="1701" cy="809.1" rx="163.2" ry="18.9" fill="url(#sh2)"/>
<ellipse cx="1701" cy="807.9" rx="162.3" ry="20.1" fill="#7b0808"/>
<ellipse cx="1701" cy="807.9" rx="162.3" ry="20.1" fill="url(#sh2)"/>
<ellipse cx="1701" cy="806.8" rx="161.3" ry="21.1" fill="#7b0808"/>
<ellipse cx="1701" cy="806.8" rx="161.3" ry="21.1" fill="url(#sh2)"/>
<ellipse cx="1701" cy="805.9" rx="160.1" ry="21.7" fill="#7a0808"/>
<ellipse cx="1701" cy="805.9" rx="160.1" ry="21.7" fill="url(#sh2)"/>
<ellipse cx="1701" cy="805.2" rx="158.8" ry="22" fill="#7a0808"/>
<ellipse cx="1701" cy="805.2" rx="158.8" ry="22" fill="url(#sh2)"/>
<ellipse cx="1701" cy="804.8" rx="157.2" ry="22" fill="#7a0808"/>
<ellipse cx="1701" cy="804.8" rx="157.2" ry="22" fill="url(#sh2)"/>
<ellipse cx="1701" cy="804.4" rx="156.1" ry="22" fill="#7a0808"/>
<ellipse cx="1701" cy="804.4" rx="156.1" ry="22" fill="url(#sh2)"/>
<ellipse cx="1701" cy="804.1" rx="155.4" ry="22" fill="#7a0808"/>
<ellipse cx="1701" cy="804.1" rx="155.4" ry="22" fill="url(#sh2)"/>
<ellipse cx="1701" cy="804" rx="155" ry="22" fill="#7a0808"/>
<ellipse cx="1701" cy="804" rx="155" ry="22" fill="url(#sh2)"/>
<polygon points="1856.4,804 1855,806.5 1853.3,808.5 1850.4,809.8 1848.4,811.1 1845.5,811.9 1843.5,813 1840.6,813.6 1838.5,814.5 1835.6,814.9 1833.5,815.8 1830.6,816.1 1828.4,816.8 1825.6,817.1 1823.4,817.8 1820.6,818 1818.5,818.7 1815.6,818.8 1813.4,819.5 1810.6,819.6 1808.4,820.2 1805.6,820.2 1803.3,820.8 1800.6,820.9 1798.3,821.5 1795.6,821.4 1793.3,822 1790.6,822 1788.3,822.5 1785.6,822.4 1783.3,823 1780.6,822.9 1778.2,823.4 1775.6,823.3 1773.2,823.8 1770.5,823.7 1768.2,824.2 1765.5,824 1763.2,824.6 1760.5,824.3 1758.2,824.9 1755.5,824.6 1753.1,825 1750.5,824.8 1748.1,825.4 1745.5,825.1 1743.1,825.5 1740.5,825.3 1738.1,825.8 1735.5,825.4 1733.1,825.8 1730.5,825.6 1728,826 1725.5,825.7 1723,826.2 1720.5,825.8 1718,826.2 1715.5,825.9 1713,826.3 1710.5,826 1708,826.5 1705.5,826 1703,826.5 1700.5,826 1698,826.4 1695.5,826 1692.9,826.5 1690.5,825.9 1687.9,826.3 1685.5,825.9 1682.9,826.3 1680.5,825.8 1677.9,826.1 1675.5,825.7 1672.9,826.1 1670.5,825.6 1667.9,825.9 1665.5,825.4 1662.9,825.8 1660.5,825.2 1657.9,825.6 1655.5,825 1652.9,825.3 1650.6,824.8 1647.9,825 1645.6,824.5 1643,824.7 1640.6,824.3 1638,824.4 1635.6,823.9 1633,824.1 1630.7,823.6 1628,823.7 1625.7,823.2 1623,823.4 1620.7,822.8 1618.1,822.9 1615.8,822.4 1613.1,822.5 1610.8,821.9 1608.2,821.9 1605.9,821.4 1603.2,821.4 1601,820.8 1598.2,820.9 1596.1,820.2 1593.3,820.1 1591.2,819.5 1588.4,819.4 1586.3,818.8 1583.5,818.7 1581.4,818 1578.6,817.8 1576.6,817.1 1573.9,816.8 1571.7,816.1 1568.9,815.9 1567,815 1564.3,814.6 1562.3,813.8 1559.5,813.3 1557.7,812.4 1555,811.7 1553.2,810.6 1550.8,809.7 1549.1,808.4 1547,807 1546.2,805.2 1545.6,802.8 1548,800.5 1549.6,798.7 1552.7,797.6 1554.7,796.4 1557.6,795.6 1559.6,794.6 1562.6,794.1 1564.6,793.1 1567.6,792.8 1569.3,791.8 1572.6,791.7 1574.6,790.8 1577.6,790.7 1579.4,789.7 1582.6,789.8 1584.4,788.8 1587.6,789 1589.4,788 1592.6,788.3 1594.6,787.5 1597.6,787.6 1599.6,786.8 1602.6,787 1604.6,786.1 1607.6,786.4 1609.6,785.5 1612.6,785.9 1614.8,785.2 1617.6,785.5 1619.7,784.5 1622.6,785 1624.7,784.1 1627.6,784.6 1629.7,783.7 1632.6,784.3 1634.9,783.6 1637.7,783.9 1639.8,783 1642.7,783.6 1645,782.9 1647.7,783.3 1650,782.6 1652.7,783.1 1655,782.3 1657.7,782.9 1660,781.9 1662.7,782.7 1665,782 1667.7,782.5 1670,781.6 1672.7,782.4 1675.1,781.6 1677.7,782.2 1680.1,781.6 1682.7,782.2 1685.2,781.5 1687.7,782.1 1690.2,781.5 1692.7,782 1695.2,781.4 1697.7,782 1700.2,781.4 1702.7,782 1705.2,781.2 1707.7,782 1710.3,781.1 1712.7,782.1 1715.3,781.5 1717.7,782.1 1720.3,781.6 1722.7,782.2 1725.3,781.4 1727.7,782.3 1730.3,781.7 1732.7,782.5 1735.3,781.9 1737.7,782.6 1740.3,782.1 1742.7,782.8 1745.4,782.2 1747.7,783 1750.4,782.3 1752.6,783.3 1755.4,782.7 1757.6,783.5 1760.4,783 1762.6,783.8 1765.3,783.5 1767.6,784.1 1770.4,783.5 1772.5,784.5 1775.3,784.2 1777.5,784.9 1780.3,784.5 1782.4,785.3 1785.4,784.8 1787.4,785.7 1790.2,785.5 1792.3,786.2 1795.3,785.8 1797.3,786.8 1800.3,786.4 1802.2,787.3 1805.2,787.1 1807.1,788 1810.1,787.7 1812,788.6 1814.9,788.6 1816.9,789.4 1819.9,789.3 1821.8,790.2 1824.7,790.3 1826.6,791.1 1829.7,791.1 1831.4,792.1 1834.3,792.3 1836.2,793.2 1839.1,793.5 1840.8,794.5 1844,794.9 1845.4,796 1848.4,796.6 1849.8,797.8 1852.7,798.7 1853.7,800.2 1855.9,801.8 1856,803.9" fill="url(#int3)"/><path d="M1549 820.5L1551.2 822L1546.6 831Z M1838 824l8.5 3.4l0.3-4.6l7 0.2l0.4-3.6l6.6-0.6l0.6-3.4l4 -2Z" fill="#5a0808"/>
<g clip-path="url(#pk3)">
<ellipse cx="1704" cy="826" rx="17.5" ry="3.5" fill="#a13920"/>
<ellipse cx="1704" cy="826" rx="17.5" ry="3.5" fill="url(#sh3)"/>
<ellipse cx="1704" cy="824.8" rx="17" ry="3.4" fill="#a13721"/>
<ellipse cx="1704" cy="824.8" rx="17" ry="3.4" fill="url(#sh3)"/>
<ellipse cx="1704" cy="823.6" rx="16.4" ry="3.3" fill="#a23521"/>
<ellipse cx="1704" cy="823.6" rx="16.4" ry="3.3" fill="url(#sh3)"/>
<ellipse cx="1704" cy="822.4" rx="15.9" ry="3.2" fill="#a33321"/>
<ellipse cx="1704" cy="822.4" rx="15.9" ry="3.2" fill="url(#sh3)"/>
<ellipse cx="1704" cy="821.2" rx="15.4" ry="3.1" fill="#a33222"/>
<ellipse cx="1704" cy="821.2" rx="15.4" ry="3.1" fill="url(#sh3)"/>
<ellipse cx="1704" cy="820" rx="14.8" ry="3" fill="#a43022"/>
<ellipse cx="1704" cy="820" rx="14.8" ry="3" fill="url(#sh3)"/>
<ellipse cx="1704" cy="818.8" rx="14.3" ry="2.9" fill="#a32e22"/>
<ellipse cx="1704" cy="818.8" rx="14.3" ry="2.9" fill="url(#sh3)"/>
<ellipse cx="1704" cy="817.6" rx="13.8" ry="2.8" fill="#a32d21"/>
<ellipse cx="1704" cy="817.6" rx="13.8" ry="2.8" fill="url(#sh3)"/>
<ellipse cx="1704" cy="816.4" rx="13.1" ry="2.6" fill="#a22b21"/>
<ellipse cx="1704" cy="816.4" rx="13.1" ry="2.6" fill="url(#sh3)"/>
<ellipse cx="1704" cy="815.2" rx="12.4" ry="2.5" fill="#a22a21"/>
<ellipse cx="1704" cy="815.2" rx="12.4" ry="2.5" fill="url(#sh3)"/>
<ellipse cx="1704" cy="814" rx="11.7" ry="2.3" fill="#a12820"/>
<ellipse cx="1704" cy="814" rx="11.7" ry="2.3" fill="url(#sh3)"/>
<ellipse cx="1704" cy="812.8" rx="11" ry="2.2" fill="#a02720"/>
<ellipse cx="1704" cy="812.8" rx="11" ry="2.2" fill="url(#sh3)"/>
<ellipse cx="1704" cy="811.6" rx="10.3" ry="2.1" fill="#9f251f"/>
<ellipse cx="1704" cy="811.6" rx="10.3" ry="2.1" fill="url(#sh3)"/>
<ellipse cx="1704" cy="810.4" rx="9.4" ry="1.9" fill="#9b221d"/>
<ellipse cx="1704" cy="810.4" rx="9.4" ry="1.9" fill="url(#sh3)"/>
<ellipse cx="1704" cy="809.2" rx="8.2" ry="1.6" fill="#971f1b"/>
<ellipse cx="1704" cy="809.2" rx="8.2" ry="1.6" fill="url(#sh3)"/>
<ellipse cx="1704" cy="808" rx="7" ry="1.4" fill="#931c19"/>
<ellipse cx="1704" cy="808" rx="7" ry="1.4" fill="url(#sh3)"/>
<ellipse cx="1704" cy="806.8" rx="5.6" ry="1.1" fill="#901917"/>
<ellipse cx="1704" cy="806.8" rx="5.6" ry="1.1" fill="url(#sh3)"/>
<ellipse cx="1704" cy="805.6" rx="3.5" ry="0.7" fill="#8c1615"/>
<ellipse cx="1704" cy="805.6" rx="3.5" ry="0.7" fill="url(#sh3)"/>
</g>
<!--PLOTS-->
</svg></body></html>
